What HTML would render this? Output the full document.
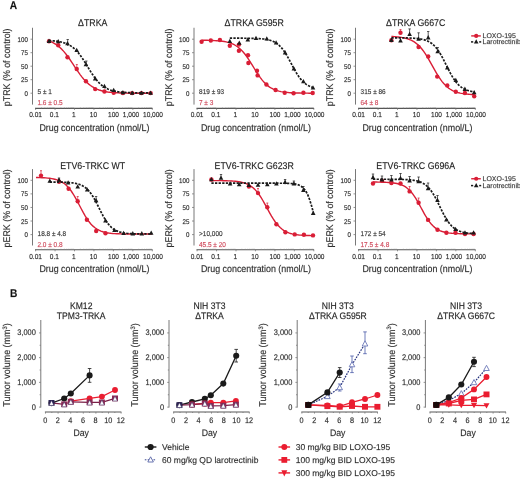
<!DOCTYPE html>
<html><head><meta charset="utf-8"><style>
html,body{margin:0;padding:0;background:#fff;}
svg{display:block;}
text{font-family:"Liberation Sans", sans-serif;text-rendering:geometricPrecision;paint-order:stroke;stroke:currentColor;stroke-width:0.25px;stroke-opacity:0.5;}
</style></head><body>
<svg style="will-change:transform;filter:blur(0.3px)" width="520" height="478" viewBox="0 0 520 478" font-family='"Liberation Sans", sans-serif'>
<rect width="520" height="478" fill="#fff"/>
<text transform="translate(9.70,9.40) scale(1,1.1)" font-size="10.2" text-anchor="start" fill="#111" color="#111" font-weight="bold">A</text>
<text transform="translate(9.90,297.40) scale(1,1.1)" font-size="10.2" text-anchor="start" fill="#111" color="#111" font-weight="bold">B</text>
<line x1="32.5" y1="27.75" x2="32.5" y2="104.6" stroke="#787878" stroke-width="1"/>
<line x1="30.5" y1="39.20" x2="32.5" y2="39.20" stroke="#787878" stroke-width="0.8"/>
<text transform="translate(27.90,41.80) scale(1,1.1)" font-size="6.2" text-anchor="end" fill="#2b2b2b" color="#2b2b2b" >100</text>
<line x1="30.5" y1="52.70" x2="32.5" y2="52.70" stroke="#787878" stroke-width="0.8"/>
<text transform="translate(27.90,55.30) scale(1,1.1)" font-size="6.2" text-anchor="end" fill="#2b2b2b" color="#2b2b2b" >75</text>
<line x1="30.5" y1="66.20" x2="32.5" y2="66.20" stroke="#787878" stroke-width="0.8"/>
<text transform="translate(27.90,68.80) scale(1,1.1)" font-size="6.2" text-anchor="end" fill="#2b2b2b" color="#2b2b2b" >50</text>
<line x1="30.5" y1="79.70" x2="32.5" y2="79.70" stroke="#787878" stroke-width="0.8"/>
<text transform="translate(27.90,82.30) scale(1,1.1)" font-size="6.2" text-anchor="end" fill="#2b2b2b" color="#2b2b2b" >25</text>
<line x1="30.5" y1="93.20" x2="32.5" y2="93.20" stroke="#787878" stroke-width="0.8"/>
<text transform="translate(27.90,95.80) scale(1,1.1)" font-size="6.2" text-anchor="end" fill="#2b2b2b" color="#2b2b2b" >0</text>
<line x1="35.0" y1="108.4" x2="152.6" y2="108.4" stroke="#555" stroke-width="1.1"/>
<line x1="35.60" y1="108.4" x2="35.60" y2="109.9" stroke="#787878" stroke-width="0.8"/>
<line x1="41.46" y1="108.4" x2="41.46" y2="107.30000000000001" stroke="#888" stroke-width="0.5"/>
<line x1="44.88" y1="108.4" x2="44.88" y2="107.30000000000001" stroke="#888" stroke-width="0.5"/>
<line x1="47.31" y1="108.4" x2="47.31" y2="107.30000000000001" stroke="#888" stroke-width="0.5"/>
<line x1="49.19" y1="108.4" x2="49.19" y2="107.30000000000001" stroke="#888" stroke-width="0.5"/>
<line x1="50.74" y1="108.4" x2="50.74" y2="107.30000000000001" stroke="#888" stroke-width="0.5"/>
<line x1="52.04" y1="108.4" x2="52.04" y2="107.30000000000001" stroke="#888" stroke-width="0.5"/>
<line x1="53.17" y1="108.4" x2="53.17" y2="107.30000000000001" stroke="#888" stroke-width="0.5"/>
<line x1="54.16" y1="108.4" x2="54.16" y2="107.30000000000001" stroke="#888" stroke-width="0.5"/>
<text transform="translate(35.60,117.00) scale(1,1.1)" font-size="6.55" text-anchor="middle" fill="#2b2b2b" color="#2b2b2b" >0.01</text>
<line x1="55.05" y1="108.4" x2="55.05" y2="109.9" stroke="#787878" stroke-width="0.8"/>
<line x1="60.91" y1="108.4" x2="60.91" y2="107.30000000000001" stroke="#888" stroke-width="0.5"/>
<line x1="64.33" y1="108.4" x2="64.33" y2="107.30000000000001" stroke="#888" stroke-width="0.5"/>
<line x1="66.76" y1="108.4" x2="66.76" y2="107.30000000000001" stroke="#888" stroke-width="0.5"/>
<line x1="68.64" y1="108.4" x2="68.64" y2="107.30000000000001" stroke="#888" stroke-width="0.5"/>
<line x1="70.19" y1="108.4" x2="70.19" y2="107.30000000000001" stroke="#888" stroke-width="0.5"/>
<line x1="71.49" y1="108.4" x2="71.49" y2="107.30000000000001" stroke="#888" stroke-width="0.5"/>
<line x1="72.62" y1="108.4" x2="72.62" y2="107.30000000000001" stroke="#888" stroke-width="0.5"/>
<line x1="73.61" y1="108.4" x2="73.61" y2="107.30000000000001" stroke="#888" stroke-width="0.5"/>
<text transform="translate(54.40,117.00) scale(1,1.1)" font-size="6.55" text-anchor="middle" fill="#2b2b2b" color="#2b2b2b" >0.1</text>
<line x1="74.50" y1="108.4" x2="74.50" y2="109.9" stroke="#787878" stroke-width="0.8"/>
<line x1="80.36" y1="108.4" x2="80.36" y2="107.30000000000001" stroke="#888" stroke-width="0.5"/>
<line x1="83.78" y1="108.4" x2="83.78" y2="107.30000000000001" stroke="#888" stroke-width="0.5"/>
<line x1="86.21" y1="108.4" x2="86.21" y2="107.30000000000001" stroke="#888" stroke-width="0.5"/>
<line x1="88.09" y1="108.4" x2="88.09" y2="107.30000000000001" stroke="#888" stroke-width="0.5"/>
<line x1="89.64" y1="108.4" x2="89.64" y2="107.30000000000001" stroke="#888" stroke-width="0.5"/>
<line x1="90.94" y1="108.4" x2="90.94" y2="107.30000000000001" stroke="#888" stroke-width="0.5"/>
<line x1="92.07" y1="108.4" x2="92.07" y2="107.30000000000001" stroke="#888" stroke-width="0.5"/>
<line x1="93.06" y1="108.4" x2="93.06" y2="107.30000000000001" stroke="#888" stroke-width="0.5"/>
<text transform="translate(73.75,117.00) scale(1,1.1)" font-size="6.55" text-anchor="middle" fill="#2b2b2b" color="#2b2b2b" >1</text>
<line x1="93.95" y1="108.4" x2="93.95" y2="109.9" stroke="#787878" stroke-width="0.8"/>
<line x1="99.81" y1="108.4" x2="99.81" y2="107.30000000000001" stroke="#888" stroke-width="0.5"/>
<line x1="103.23" y1="108.4" x2="103.23" y2="107.30000000000001" stroke="#888" stroke-width="0.5"/>
<line x1="105.66" y1="108.4" x2="105.66" y2="107.30000000000001" stroke="#888" stroke-width="0.5"/>
<line x1="107.54" y1="108.4" x2="107.54" y2="107.30000000000001" stroke="#888" stroke-width="0.5"/>
<line x1="109.09" y1="108.4" x2="109.09" y2="107.30000000000001" stroke="#888" stroke-width="0.5"/>
<line x1="110.39" y1="108.4" x2="110.39" y2="107.30000000000001" stroke="#888" stroke-width="0.5"/>
<line x1="111.52" y1="108.4" x2="111.52" y2="107.30000000000001" stroke="#888" stroke-width="0.5"/>
<line x1="112.51" y1="108.4" x2="112.51" y2="107.30000000000001" stroke="#888" stroke-width="0.5"/>
<text transform="translate(93.40,117.00) scale(1,1.1)" font-size="6.55" text-anchor="middle" fill="#2b2b2b" color="#2b2b2b" >10</text>
<line x1="113.40" y1="108.4" x2="113.40" y2="109.9" stroke="#787878" stroke-width="0.8"/>
<line x1="119.26" y1="108.4" x2="119.26" y2="107.30000000000001" stroke="#888" stroke-width="0.5"/>
<line x1="122.68" y1="108.4" x2="122.68" y2="107.30000000000001" stroke="#888" stroke-width="0.5"/>
<line x1="125.11" y1="108.4" x2="125.11" y2="107.30000000000001" stroke="#888" stroke-width="0.5"/>
<line x1="126.99" y1="108.4" x2="126.99" y2="107.30000000000001" stroke="#888" stroke-width="0.5"/>
<line x1="128.54" y1="108.4" x2="128.54" y2="107.30000000000001" stroke="#888" stroke-width="0.5"/>
<line x1="129.84" y1="108.4" x2="129.84" y2="107.30000000000001" stroke="#888" stroke-width="0.5"/>
<line x1="130.97" y1="108.4" x2="130.97" y2="107.30000000000001" stroke="#888" stroke-width="0.5"/>
<line x1="131.96" y1="108.4" x2="131.96" y2="107.30000000000001" stroke="#888" stroke-width="0.5"/>
<text transform="translate(113.50,117.00) scale(1,1.1)" font-size="6.55" text-anchor="middle" fill="#2b2b2b" color="#2b2b2b" >100</text>
<line x1="132.85" y1="108.4" x2="132.85" y2="109.9" stroke="#787878" stroke-width="0.8"/>
<line x1="138.71" y1="108.4" x2="138.71" y2="107.30000000000001" stroke="#888" stroke-width="0.5"/>
<line x1="142.13" y1="108.4" x2="142.13" y2="107.30000000000001" stroke="#888" stroke-width="0.5"/>
<line x1="144.56" y1="108.4" x2="144.56" y2="107.30000000000001" stroke="#888" stroke-width="0.5"/>
<line x1="146.44" y1="108.4" x2="146.44" y2="107.30000000000001" stroke="#888" stroke-width="0.5"/>
<line x1="147.99" y1="108.4" x2="147.99" y2="107.30000000000001" stroke="#888" stroke-width="0.5"/>
<line x1="149.29" y1="108.4" x2="149.29" y2="107.30000000000001" stroke="#888" stroke-width="0.5"/>
<line x1="150.42" y1="108.4" x2="150.42" y2="107.30000000000001" stroke="#888" stroke-width="0.5"/>
<line x1="151.41" y1="108.4" x2="151.41" y2="107.30000000000001" stroke="#888" stroke-width="0.5"/>
<text transform="translate(131.00,117.00) scale(1,1.1)" font-size="6.55" text-anchor="middle" fill="#2b2b2b" color="#2b2b2b" >1,000</text>
<line x1="152.30" y1="108.4" x2="152.30" y2="109.9" stroke="#787878" stroke-width="0.8"/>
<text transform="translate(153.00,117.00) scale(1,1.1)" font-size="6.55" text-anchor="middle" fill="#2b2b2b" color="#2b2b2b" >10,000</text>
<text transform="translate(94.40,130.60) scale(1,1.1)" font-size="8.9" text-anchor="middle" fill="#2b2b2b" color="#2b2b2b" >Drug concentration (nmol/L)</text>
<text transform="translate(10.2,67.3) rotate(-90) scale(1,1.1)" font-size="8.85" text-anchor="middle" fill="#2b2b2b" color="#2b2b2b">pTRK (% of control)</text>
<text transform="translate(92.70,25.50) scale(1,1.1)" font-size="8.8" text-anchor="middle" fill="#222" color="#222" >ΔTRKA</text>
<text transform="translate(37.60,94.40) scale(1,1.1)" font-size="6.45" text-anchor="start" fill="#333" color="#333" >5 ± 1</text>
<text transform="translate(37.40,105.00) scale(1,1.1)" font-size="6.5" text-anchor="start" fill="#d04a5c" color="#d04a5c" >1.6 ± 0.5</text>
<path d="M49.00,40.97 L50.73,41.64 L52.46,42.43 L54.19,43.34 L55.92,44.41 L57.64,45.63 L59.37,47.03 L61.10,48.62 L62.83,50.39 L64.56,52.35 L66.29,54.50 L68.02,56.80 L69.75,59.24 L71.47,61.79 L73.20,64.40 L74.93,67.02 L76.66,69.62 L78.39,72.14 L80.12,74.56 L81.85,76.83 L83.58,78.93 L85.31,80.85 L87.03,82.58 L88.76,84.12 L90.49,85.48 L92.22,86.66 L93.95,87.69 L95.68,88.58 L97.41,89.34 L99.14,89.98 L100.86,90.53 L102.59,90.99 L104.32,91.38 L106.05,91.70 L107.78,91.98 L109.51,92.20 L111.24,92.39 L112.97,92.55 L114.69,92.69 L116.42,92.80 L118.15,92.89 L119.88,92.96 L121.61,93.03 L123.34,93.08 L125.07,93.12 L126.80,93.16 L128.53,93.19 L130.25,93.21 L131.98,93.23 L133.71,93.25 L135.44,93.27 L137.17,93.28 L138.90,93.29 L140.63,93.30 L142.36,93.30 L144.08,93.31 L145.81,93.31 L147.54,93.32 L149.27,93.32 L151.00,93.32" fill="none" stroke="#d91e36" stroke-width="1.4"/>
<circle cx="49.00" cy="41.20" r="2.2" fill="#d91e36"/>
<circle cx="58.24" cy="45.30" r="2.2" fill="#d91e36"/>
<circle cx="67.48" cy="57.20" r="2.2" fill="#d91e36"/>
<circle cx="76.72" cy="69.00" r="2.2" fill="#d91e36"/>
<circle cx="85.96" cy="81.20" r="2.2" fill="#d91e36"/>
<circle cx="95.20" cy="89.10" r="2.2" fill="#d91e36"/>
<circle cx="104.44" cy="91.50" r="2.2" fill="#d91e36"/>
<circle cx="113.68" cy="92.75" r="2.2" fill="#d91e36"/>
<circle cx="122.92" cy="93.10" r="2.2" fill="#d91e36"/>
<circle cx="132.16" cy="93.10" r="2.2" fill="#d91e36"/>
<circle cx="141.40" cy="93.10" r="2.2" fill="#d91e36"/>
<circle cx="150.64" cy="93.10" r="2.2" fill="#d91e36"/>
<line x1="76.8" y1="64.5" x2="76.8" y2="69" stroke="#d91e36" stroke-width="0.7"/>
<line x1="75.8" y1="64.5" x2="77.8" y2="64.5" stroke="#d91e36" stroke-width="0.7"/>
<path d="M49.00,40.58 L50.73,40.69 L52.46,40.81 L54.19,40.96 L55.92,41.15 L57.64,41.39 L59.37,41.68 L61.10,42.03 L62.83,42.46 L64.56,42.98 L66.29,43.62 L68.02,44.39 L69.75,45.31 L71.47,46.40 L73.20,47.70 L74.93,49.20 L76.66,50.94 L78.39,52.91 L80.12,55.12 L81.85,57.54 L83.58,60.14 L85.31,62.89 L87.03,65.71 L88.76,68.56 L90.49,71.36 L92.22,74.05 L93.95,76.59 L95.68,78.92 L97.41,81.03 L99.14,82.90 L100.86,84.54 L102.59,85.95 L104.32,87.16 L106.05,88.18 L107.78,89.03 L109.51,89.74 L111.24,90.33 L112.97,90.81 L114.69,91.21 L116.42,91.53 L118.15,91.80 L119.88,92.01 L121.61,92.19 L123.34,92.33 L125.07,92.44 L126.80,92.53 L128.53,92.61 L130.25,92.67 L131.98,92.72 L133.71,92.76 L135.44,92.79 L137.17,92.81 L138.90,92.83 L140.63,92.85 L142.36,92.86 L144.08,92.88 L145.81,92.88 L147.54,92.89 L149.27,92.90 L151.00,92.90" fill="none" stroke="#1a1a1a" stroke-width="1.7" stroke-dasharray="2.3,1.3"/>
<line x1="67.7" y1="39.5" x2="67.7" y2="46" stroke="#1a1a1a" stroke-width="0.7"/>
<line x1="66.5" y1="39.5" x2="68.9" y2="39.5" stroke="#1a1a1a" stroke-width="0.7"/>
<line x1="86.3" y1="61" x2="86.3" y2="66" stroke="#1a1a1a" stroke-width="0.7"/>
<line x1="85.1" y1="61" x2="87.5" y2="61" stroke="#1a1a1a" stroke-width="0.7"/>
<path d="M49.00,38.60 L51.30,42.90 L46.70,42.90 Z" fill="#1a1a1a"/>
<path d="M58.24,38.90 L60.54,43.20 L55.94,43.20 Z" fill="#1a1a1a"/>
<path d="M67.48,41.00 L69.78,45.30 L65.18,45.30 Z" fill="#1a1a1a"/>
<path d="M76.72,47.80 L79.02,52.10 L74.42,52.10 Z" fill="#1a1a1a"/>
<path d="M85.96,62.00 L88.26,66.30 L83.66,66.30 Z" fill="#1a1a1a"/>
<path d="M95.20,76.10 L97.50,80.40 L92.90,80.40 Z" fill="#1a1a1a"/>
<path d="M104.44,83.65 L106.74,87.95 L102.14,87.95 Z" fill="#1a1a1a"/>
<path d="M113.68,87.80 L115.98,92.10 L111.38,92.10 Z" fill="#1a1a1a"/>
<path d="M122.92,89.90 L125.22,94.20 L120.62,94.20 Z" fill="#1a1a1a"/>
<path d="M132.16,90.50 L134.46,94.80 L129.86,94.80 Z" fill="#1a1a1a"/>
<path d="M141.40,90.50 L143.70,94.80 L139.10,94.80 Z" fill="#1a1a1a"/>
<path d="M150.64,90.50 L152.94,94.80 L148.34,94.80 Z" fill="#1a1a1a"/>
<line x1="194.0" y1="27.75" x2="194.0" y2="104.6" stroke="#787878" stroke-width="1"/>
<line x1="192.0" y1="39.20" x2="194.0" y2="39.20" stroke="#787878" stroke-width="0.8"/>
<text transform="translate(189.40,41.80) scale(1,1.1)" font-size="6.2" text-anchor="end" fill="#2b2b2b" color="#2b2b2b" >100</text>
<line x1="192.0" y1="52.70" x2="194.0" y2="52.70" stroke="#787878" stroke-width="0.8"/>
<text transform="translate(189.40,55.30) scale(1,1.1)" font-size="6.2" text-anchor="end" fill="#2b2b2b" color="#2b2b2b" >75</text>
<line x1="192.0" y1="66.20" x2="194.0" y2="66.20" stroke="#787878" stroke-width="0.8"/>
<text transform="translate(189.40,68.80) scale(1,1.1)" font-size="6.2" text-anchor="end" fill="#2b2b2b" color="#2b2b2b" >50</text>
<line x1="192.0" y1="79.70" x2="194.0" y2="79.70" stroke="#787878" stroke-width="0.8"/>
<text transform="translate(189.40,82.30) scale(1,1.1)" font-size="6.2" text-anchor="end" fill="#2b2b2b" color="#2b2b2b" >25</text>
<line x1="192.0" y1="93.20" x2="194.0" y2="93.20" stroke="#787878" stroke-width="0.8"/>
<text transform="translate(189.40,95.80) scale(1,1.1)" font-size="6.2" text-anchor="end" fill="#2b2b2b" color="#2b2b2b" >0</text>
<line x1="196.5" y1="108.4" x2="314.1" y2="108.4" stroke="#555" stroke-width="1.1"/>
<line x1="197.10" y1="108.4" x2="197.10" y2="109.9" stroke="#787878" stroke-width="0.8"/>
<line x1="202.96" y1="108.4" x2="202.96" y2="107.30000000000001" stroke="#888" stroke-width="0.5"/>
<line x1="206.38" y1="108.4" x2="206.38" y2="107.30000000000001" stroke="#888" stroke-width="0.5"/>
<line x1="208.81" y1="108.4" x2="208.81" y2="107.30000000000001" stroke="#888" stroke-width="0.5"/>
<line x1="210.69" y1="108.4" x2="210.69" y2="107.30000000000001" stroke="#888" stroke-width="0.5"/>
<line x1="212.24" y1="108.4" x2="212.24" y2="107.30000000000001" stroke="#888" stroke-width="0.5"/>
<line x1="213.54" y1="108.4" x2="213.54" y2="107.30000000000001" stroke="#888" stroke-width="0.5"/>
<line x1="214.67" y1="108.4" x2="214.67" y2="107.30000000000001" stroke="#888" stroke-width="0.5"/>
<line x1="215.66" y1="108.4" x2="215.66" y2="107.30000000000001" stroke="#888" stroke-width="0.5"/>
<text transform="translate(197.10,117.00) scale(1,1.1)" font-size="6.55" text-anchor="middle" fill="#2b2b2b" color="#2b2b2b" >0.01</text>
<line x1="216.55" y1="108.4" x2="216.55" y2="109.9" stroke="#787878" stroke-width="0.8"/>
<line x1="222.41" y1="108.4" x2="222.41" y2="107.30000000000001" stroke="#888" stroke-width="0.5"/>
<line x1="225.83" y1="108.4" x2="225.83" y2="107.30000000000001" stroke="#888" stroke-width="0.5"/>
<line x1="228.26" y1="108.4" x2="228.26" y2="107.30000000000001" stroke="#888" stroke-width="0.5"/>
<line x1="230.14" y1="108.4" x2="230.14" y2="107.30000000000001" stroke="#888" stroke-width="0.5"/>
<line x1="231.69" y1="108.4" x2="231.69" y2="107.30000000000001" stroke="#888" stroke-width="0.5"/>
<line x1="232.99" y1="108.4" x2="232.99" y2="107.30000000000001" stroke="#888" stroke-width="0.5"/>
<line x1="234.12" y1="108.4" x2="234.12" y2="107.30000000000001" stroke="#888" stroke-width="0.5"/>
<line x1="235.11" y1="108.4" x2="235.11" y2="107.30000000000001" stroke="#888" stroke-width="0.5"/>
<text transform="translate(215.90,117.00) scale(1,1.1)" font-size="6.55" text-anchor="middle" fill="#2b2b2b" color="#2b2b2b" >0.1</text>
<line x1="236.00" y1="108.4" x2="236.00" y2="109.9" stroke="#787878" stroke-width="0.8"/>
<line x1="241.86" y1="108.4" x2="241.86" y2="107.30000000000001" stroke="#888" stroke-width="0.5"/>
<line x1="245.28" y1="108.4" x2="245.28" y2="107.30000000000001" stroke="#888" stroke-width="0.5"/>
<line x1="247.71" y1="108.4" x2="247.71" y2="107.30000000000001" stroke="#888" stroke-width="0.5"/>
<line x1="249.59" y1="108.4" x2="249.59" y2="107.30000000000001" stroke="#888" stroke-width="0.5"/>
<line x1="251.14" y1="108.4" x2="251.14" y2="107.30000000000001" stroke="#888" stroke-width="0.5"/>
<line x1="252.44" y1="108.4" x2="252.44" y2="107.30000000000001" stroke="#888" stroke-width="0.5"/>
<line x1="253.57" y1="108.4" x2="253.57" y2="107.30000000000001" stroke="#888" stroke-width="0.5"/>
<line x1="254.56" y1="108.4" x2="254.56" y2="107.30000000000001" stroke="#888" stroke-width="0.5"/>
<text transform="translate(235.25,117.00) scale(1,1.1)" font-size="6.55" text-anchor="middle" fill="#2b2b2b" color="#2b2b2b" >1</text>
<line x1="255.45" y1="108.4" x2="255.45" y2="109.9" stroke="#787878" stroke-width="0.8"/>
<line x1="261.31" y1="108.4" x2="261.31" y2="107.30000000000001" stroke="#888" stroke-width="0.5"/>
<line x1="264.73" y1="108.4" x2="264.73" y2="107.30000000000001" stroke="#888" stroke-width="0.5"/>
<line x1="267.16" y1="108.4" x2="267.16" y2="107.30000000000001" stroke="#888" stroke-width="0.5"/>
<line x1="269.04" y1="108.4" x2="269.04" y2="107.30000000000001" stroke="#888" stroke-width="0.5"/>
<line x1="270.59" y1="108.4" x2="270.59" y2="107.30000000000001" stroke="#888" stroke-width="0.5"/>
<line x1="271.89" y1="108.4" x2="271.89" y2="107.30000000000001" stroke="#888" stroke-width="0.5"/>
<line x1="273.02" y1="108.4" x2="273.02" y2="107.30000000000001" stroke="#888" stroke-width="0.5"/>
<line x1="274.01" y1="108.4" x2="274.01" y2="107.30000000000001" stroke="#888" stroke-width="0.5"/>
<text transform="translate(254.90,117.00) scale(1,1.1)" font-size="6.55" text-anchor="middle" fill="#2b2b2b" color="#2b2b2b" >10</text>
<line x1="274.90" y1="108.4" x2="274.90" y2="109.9" stroke="#787878" stroke-width="0.8"/>
<line x1="280.76" y1="108.4" x2="280.76" y2="107.30000000000001" stroke="#888" stroke-width="0.5"/>
<line x1="284.18" y1="108.4" x2="284.18" y2="107.30000000000001" stroke="#888" stroke-width="0.5"/>
<line x1="286.61" y1="108.4" x2="286.61" y2="107.30000000000001" stroke="#888" stroke-width="0.5"/>
<line x1="288.49" y1="108.4" x2="288.49" y2="107.30000000000001" stroke="#888" stroke-width="0.5"/>
<line x1="290.04" y1="108.4" x2="290.04" y2="107.30000000000001" stroke="#888" stroke-width="0.5"/>
<line x1="291.34" y1="108.4" x2="291.34" y2="107.30000000000001" stroke="#888" stroke-width="0.5"/>
<line x1="292.47" y1="108.4" x2="292.47" y2="107.30000000000001" stroke="#888" stroke-width="0.5"/>
<line x1="293.46" y1="108.4" x2="293.46" y2="107.30000000000001" stroke="#888" stroke-width="0.5"/>
<text transform="translate(275.00,117.00) scale(1,1.1)" font-size="6.55" text-anchor="middle" fill="#2b2b2b" color="#2b2b2b" >100</text>
<line x1="294.35" y1="108.4" x2="294.35" y2="109.9" stroke="#787878" stroke-width="0.8"/>
<line x1="300.21" y1="108.4" x2="300.21" y2="107.30000000000001" stroke="#888" stroke-width="0.5"/>
<line x1="303.63" y1="108.4" x2="303.63" y2="107.30000000000001" stroke="#888" stroke-width="0.5"/>
<line x1="306.06" y1="108.4" x2="306.06" y2="107.30000000000001" stroke="#888" stroke-width="0.5"/>
<line x1="307.94" y1="108.4" x2="307.94" y2="107.30000000000001" stroke="#888" stroke-width="0.5"/>
<line x1="309.49" y1="108.4" x2="309.49" y2="107.30000000000001" stroke="#888" stroke-width="0.5"/>
<line x1="310.79" y1="108.4" x2="310.79" y2="107.30000000000001" stroke="#888" stroke-width="0.5"/>
<line x1="311.92" y1="108.4" x2="311.92" y2="107.30000000000001" stroke="#888" stroke-width="0.5"/>
<line x1="312.91" y1="108.4" x2="312.91" y2="107.30000000000001" stroke="#888" stroke-width="0.5"/>
<text transform="translate(292.50,117.00) scale(1,1.1)" font-size="6.55" text-anchor="middle" fill="#2b2b2b" color="#2b2b2b" >1,000</text>
<line x1="313.80" y1="108.4" x2="313.80" y2="109.9" stroke="#787878" stroke-width="0.8"/>
<text transform="translate(314.50,117.00) scale(1,1.1)" font-size="6.55" text-anchor="middle" fill="#2b2b2b" color="#2b2b2b" >10,000</text>
<text transform="translate(255.90,130.60) scale(1,1.1)" font-size="8.9" text-anchor="middle" fill="#2b2b2b" color="#2b2b2b" >Drug concentration (nmol/L)</text>
<text transform="translate(171.7,67.3) rotate(-90) scale(1,1.1)" font-size="8.85" text-anchor="middle" fill="#2b2b2b" color="#2b2b2b">pTRK (% of control)</text>
<text transform="translate(254.20,25.50) scale(1,1.1)" font-size="8.8" text-anchor="middle" fill="#222" color="#222" >ΔTRKA G595R</text>
<text transform="translate(199.10,94.40) scale(1,1.1)" font-size="6.45" text-anchor="start" fill="#333" color="#333" >819 ± 93</text>
<text transform="translate(198.90,105.00) scale(1,1.1)" font-size="6.5" text-anchor="start" fill="#d04a5c" color="#d04a5c" >7 ± 3</text>
<path d="M201.60,40.23 L203.49,40.25 L205.38,40.28 L207.26,40.32 L209.15,40.37 L211.04,40.43 L212.93,40.50 L214.82,40.59 L216.71,40.71 L218.59,40.86 L220.48,41.04 L222.37,41.27 L224.26,41.56 L226.15,41.93 L228.03,42.38 L229.92,42.94 L231.81,43.63 L233.70,44.47 L235.59,45.50 L237.47,46.74 L239.36,48.21 L241.25,49.95 L243.14,51.96 L245.03,54.25 L246.92,56.81 L248.80,59.60 L250.69,62.57 L252.58,65.65 L254.47,68.75 L256.36,71.80 L258.24,74.72 L260.13,77.43 L262.02,79.91 L263.91,82.11 L265.80,84.03 L267.68,85.68 L269.57,87.07 L271.46,88.24 L273.35,89.20 L275.24,89.99 L277.13,90.63 L279.01,91.15 L280.90,91.57 L282.79,91.91 L284.68,92.18 L286.57,92.39 L288.45,92.57 L290.34,92.70 L292.23,92.81 L294.12,92.90 L296.01,92.97 L297.89,93.02 L299.78,93.06 L301.67,93.10 L303.56,93.12 L305.45,93.15 L307.34,93.16 L309.22,93.18 L311.11,93.19 L313.00,93.19" fill="none" stroke="#d91e36" stroke-width="1.4"/>
<circle cx="201.60" cy="41.70" r="2.2" fill="#d91e36"/>
<circle cx="210.80" cy="40.50" r="2.2" fill="#d91e36"/>
<circle cx="219.90" cy="40.00" r="2.2" fill="#d91e36"/>
<circle cx="229.80" cy="45.80" r="2.2" fill="#d91e36"/>
<circle cx="238.90" cy="44.60" r="2.2" fill="#d91e36"/>
<circle cx="238.90" cy="50.80" r="2.2" fill="#d91e36"/>
<circle cx="248.00" cy="55.20" r="2.2" fill="#d91e36"/>
<circle cx="248.40" cy="63.00" r="2.2" fill="#d91e36"/>
<circle cx="257.00" cy="70.70" r="2.2" fill="#d91e36"/>
<circle cx="257.60" cy="75.40" r="2.2" fill="#d91e36"/>
<circle cx="266.40" cy="84.50" r="2.2" fill="#d91e36"/>
<circle cx="275.60" cy="90.00" r="2.2" fill="#d91e36"/>
<circle cx="284.70" cy="92.70" r="2.2" fill="#d91e36"/>
<circle cx="293.60" cy="93.30" r="2.2" fill="#d91e36"/>
<circle cx="303.40" cy="92.70" r="2.2" fill="#d91e36"/>
<circle cx="312.70" cy="93.00" r="2.2" fill="#d91e36"/>
<path d="M229.80,38.19 L231.21,38.19 L232.62,38.19 L234.03,38.20 L235.44,38.20 L236.85,38.20 L238.26,38.21 L239.67,38.21 L241.08,38.22 L242.49,38.22 L243.90,38.23 L245.31,38.24 L246.72,38.25 L248.13,38.27 L249.54,38.29 L250.95,38.31 L252.36,38.34 L253.77,38.38 L255.18,38.42 L256.59,38.48 L258.00,38.55 L259.41,38.63 L260.82,38.73 L262.23,38.86 L263.64,39.01 L265.05,39.20 L266.46,39.43 L267.87,39.71 L269.28,40.05 L270.69,40.47 L272.11,40.97 L273.52,41.58 L274.93,42.30 L276.34,43.16 L277.75,44.18 L279.16,45.38 L280.57,46.77 L281.98,48.37 L283.39,50.18 L284.80,52.20 L286.21,54.43 L287.62,56.83 L289.03,59.37 L290.44,62.01 L291.85,64.68 L293.26,67.34 L294.67,69.92 L296.08,72.38 L297.49,74.67 L298.90,76.77 L300.31,78.66 L301.72,80.33 L303.13,81.80 L304.54,83.06 L305.95,84.15 L307.36,85.07 L308.77,85.84 L310.18,86.48 L311.59,87.02 L313.00,87.47" fill="none" stroke="#1a1a1a" stroke-width="1.7" stroke-dasharray="2.3,1.3"/>
<path d="M229.80,38.80 L232.10,43.10 L227.50,43.10 Z" fill="#1a1a1a"/>
<path d="M239.30,40.40 L241.60,44.70 L237.00,44.70 Z" fill="#1a1a1a"/>
<path d="M247.80,37.20 L250.10,41.50 L245.50,41.50 Z" fill="#1a1a1a"/>
<path d="M256.00,35.70 L258.30,40.00 L253.70,40.00 Z" fill="#1a1a1a"/>
<path d="M266.80,36.20 L269.10,40.50 L264.50,40.50 Z" fill="#1a1a1a"/>
<path d="M276.10,40.30 L278.40,44.60 L273.80,44.60 Z" fill="#1a1a1a"/>
<path d="M285.10,50.10 L287.40,54.40 L282.80,54.40 Z" fill="#1a1a1a"/>
<path d="M293.90,66.20 L296.20,70.50 L291.60,70.50 Z" fill="#1a1a1a"/>
<path d="M303.40,78.90 L305.70,83.20 L301.10,83.20 Z" fill="#1a1a1a"/>
<path d="M313.00,85.20 L315.30,89.50 L310.70,89.50 Z" fill="#1a1a1a"/>
<line x1="355.5" y1="27.75" x2="355.5" y2="104.6" stroke="#787878" stroke-width="1"/>
<line x1="353.5" y1="39.20" x2="355.5" y2="39.20" stroke="#787878" stroke-width="0.8"/>
<text transform="translate(350.90,41.80) scale(1,1.1)" font-size="6.2" text-anchor="end" fill="#2b2b2b" color="#2b2b2b" >100</text>
<line x1="353.5" y1="52.70" x2="355.5" y2="52.70" stroke="#787878" stroke-width="0.8"/>
<text transform="translate(350.90,55.30) scale(1,1.1)" font-size="6.2" text-anchor="end" fill="#2b2b2b" color="#2b2b2b" >75</text>
<line x1="353.5" y1="66.20" x2="355.5" y2="66.20" stroke="#787878" stroke-width="0.8"/>
<text transform="translate(350.90,68.80) scale(1,1.1)" font-size="6.2" text-anchor="end" fill="#2b2b2b" color="#2b2b2b" >50</text>
<line x1="353.5" y1="79.70" x2="355.5" y2="79.70" stroke="#787878" stroke-width="0.8"/>
<text transform="translate(350.90,82.30) scale(1,1.1)" font-size="6.2" text-anchor="end" fill="#2b2b2b" color="#2b2b2b" >25</text>
<line x1="353.5" y1="93.20" x2="355.5" y2="93.20" stroke="#787878" stroke-width="0.8"/>
<text transform="translate(350.90,95.80) scale(1,1.1)" font-size="6.2" text-anchor="end" fill="#2b2b2b" color="#2b2b2b" >0</text>
<line x1="358.0" y1="108.4" x2="475.6" y2="108.4" stroke="#555" stroke-width="1.1"/>
<line x1="358.60" y1="108.4" x2="358.60" y2="109.9" stroke="#787878" stroke-width="0.8"/>
<line x1="364.46" y1="108.4" x2="364.46" y2="107.30000000000001" stroke="#888" stroke-width="0.5"/>
<line x1="367.88" y1="108.4" x2="367.88" y2="107.30000000000001" stroke="#888" stroke-width="0.5"/>
<line x1="370.31" y1="108.4" x2="370.31" y2="107.30000000000001" stroke="#888" stroke-width="0.5"/>
<line x1="372.19" y1="108.4" x2="372.19" y2="107.30000000000001" stroke="#888" stroke-width="0.5"/>
<line x1="373.74" y1="108.4" x2="373.74" y2="107.30000000000001" stroke="#888" stroke-width="0.5"/>
<line x1="375.04" y1="108.4" x2="375.04" y2="107.30000000000001" stroke="#888" stroke-width="0.5"/>
<line x1="376.17" y1="108.4" x2="376.17" y2="107.30000000000001" stroke="#888" stroke-width="0.5"/>
<line x1="377.16" y1="108.4" x2="377.16" y2="107.30000000000001" stroke="#888" stroke-width="0.5"/>
<text transform="translate(358.60,117.00) scale(1,1.1)" font-size="6.55" text-anchor="middle" fill="#2b2b2b" color="#2b2b2b" >0.01</text>
<line x1="378.05" y1="108.4" x2="378.05" y2="109.9" stroke="#787878" stroke-width="0.8"/>
<line x1="383.91" y1="108.4" x2="383.91" y2="107.30000000000001" stroke="#888" stroke-width="0.5"/>
<line x1="387.33" y1="108.4" x2="387.33" y2="107.30000000000001" stroke="#888" stroke-width="0.5"/>
<line x1="389.76" y1="108.4" x2="389.76" y2="107.30000000000001" stroke="#888" stroke-width="0.5"/>
<line x1="391.64" y1="108.4" x2="391.64" y2="107.30000000000001" stroke="#888" stroke-width="0.5"/>
<line x1="393.19" y1="108.4" x2="393.19" y2="107.30000000000001" stroke="#888" stroke-width="0.5"/>
<line x1="394.49" y1="108.4" x2="394.49" y2="107.30000000000001" stroke="#888" stroke-width="0.5"/>
<line x1="395.62" y1="108.4" x2="395.62" y2="107.30000000000001" stroke="#888" stroke-width="0.5"/>
<line x1="396.61" y1="108.4" x2="396.61" y2="107.30000000000001" stroke="#888" stroke-width="0.5"/>
<text transform="translate(377.40,117.00) scale(1,1.1)" font-size="6.55" text-anchor="middle" fill="#2b2b2b" color="#2b2b2b" >0.1</text>
<line x1="397.50" y1="108.4" x2="397.50" y2="109.9" stroke="#787878" stroke-width="0.8"/>
<line x1="403.36" y1="108.4" x2="403.36" y2="107.30000000000001" stroke="#888" stroke-width="0.5"/>
<line x1="406.78" y1="108.4" x2="406.78" y2="107.30000000000001" stroke="#888" stroke-width="0.5"/>
<line x1="409.21" y1="108.4" x2="409.21" y2="107.30000000000001" stroke="#888" stroke-width="0.5"/>
<line x1="411.09" y1="108.4" x2="411.09" y2="107.30000000000001" stroke="#888" stroke-width="0.5"/>
<line x1="412.64" y1="108.4" x2="412.64" y2="107.30000000000001" stroke="#888" stroke-width="0.5"/>
<line x1="413.94" y1="108.4" x2="413.94" y2="107.30000000000001" stroke="#888" stroke-width="0.5"/>
<line x1="415.07" y1="108.4" x2="415.07" y2="107.30000000000001" stroke="#888" stroke-width="0.5"/>
<line x1="416.06" y1="108.4" x2="416.06" y2="107.30000000000001" stroke="#888" stroke-width="0.5"/>
<text transform="translate(396.75,117.00) scale(1,1.1)" font-size="6.55" text-anchor="middle" fill="#2b2b2b" color="#2b2b2b" >1</text>
<line x1="416.95" y1="108.4" x2="416.95" y2="109.9" stroke="#787878" stroke-width="0.8"/>
<line x1="422.81" y1="108.4" x2="422.81" y2="107.30000000000001" stroke="#888" stroke-width="0.5"/>
<line x1="426.23" y1="108.4" x2="426.23" y2="107.30000000000001" stroke="#888" stroke-width="0.5"/>
<line x1="428.66" y1="108.4" x2="428.66" y2="107.30000000000001" stroke="#888" stroke-width="0.5"/>
<line x1="430.54" y1="108.4" x2="430.54" y2="107.30000000000001" stroke="#888" stroke-width="0.5"/>
<line x1="432.09" y1="108.4" x2="432.09" y2="107.30000000000001" stroke="#888" stroke-width="0.5"/>
<line x1="433.39" y1="108.4" x2="433.39" y2="107.30000000000001" stroke="#888" stroke-width="0.5"/>
<line x1="434.52" y1="108.4" x2="434.52" y2="107.30000000000001" stroke="#888" stroke-width="0.5"/>
<line x1="435.51" y1="108.4" x2="435.51" y2="107.30000000000001" stroke="#888" stroke-width="0.5"/>
<text transform="translate(416.40,117.00) scale(1,1.1)" font-size="6.55" text-anchor="middle" fill="#2b2b2b" color="#2b2b2b" >10</text>
<line x1="436.40" y1="108.4" x2="436.40" y2="109.9" stroke="#787878" stroke-width="0.8"/>
<line x1="442.26" y1="108.4" x2="442.26" y2="107.30000000000001" stroke="#888" stroke-width="0.5"/>
<line x1="445.68" y1="108.4" x2="445.68" y2="107.30000000000001" stroke="#888" stroke-width="0.5"/>
<line x1="448.11" y1="108.4" x2="448.11" y2="107.30000000000001" stroke="#888" stroke-width="0.5"/>
<line x1="449.99" y1="108.4" x2="449.99" y2="107.30000000000001" stroke="#888" stroke-width="0.5"/>
<line x1="451.54" y1="108.4" x2="451.54" y2="107.30000000000001" stroke="#888" stroke-width="0.5"/>
<line x1="452.84" y1="108.4" x2="452.84" y2="107.30000000000001" stroke="#888" stroke-width="0.5"/>
<line x1="453.97" y1="108.4" x2="453.97" y2="107.30000000000001" stroke="#888" stroke-width="0.5"/>
<line x1="454.96" y1="108.4" x2="454.96" y2="107.30000000000001" stroke="#888" stroke-width="0.5"/>
<text transform="translate(436.50,117.00) scale(1,1.1)" font-size="6.55" text-anchor="middle" fill="#2b2b2b" color="#2b2b2b" >100</text>
<line x1="455.85" y1="108.4" x2="455.85" y2="109.9" stroke="#787878" stroke-width="0.8"/>
<line x1="461.71" y1="108.4" x2="461.71" y2="107.30000000000001" stroke="#888" stroke-width="0.5"/>
<line x1="465.13" y1="108.4" x2="465.13" y2="107.30000000000001" stroke="#888" stroke-width="0.5"/>
<line x1="467.56" y1="108.4" x2="467.56" y2="107.30000000000001" stroke="#888" stroke-width="0.5"/>
<line x1="469.44" y1="108.4" x2="469.44" y2="107.30000000000001" stroke="#888" stroke-width="0.5"/>
<line x1="470.99" y1="108.4" x2="470.99" y2="107.30000000000001" stroke="#888" stroke-width="0.5"/>
<line x1="472.29" y1="108.4" x2="472.29" y2="107.30000000000001" stroke="#888" stroke-width="0.5"/>
<line x1="473.42" y1="108.4" x2="473.42" y2="107.30000000000001" stroke="#888" stroke-width="0.5"/>
<line x1="474.41" y1="108.4" x2="474.41" y2="107.30000000000001" stroke="#888" stroke-width="0.5"/>
<text transform="translate(454.00,117.00) scale(1,1.1)" font-size="6.55" text-anchor="middle" fill="#2b2b2b" color="#2b2b2b" >1,000</text>
<line x1="475.30" y1="108.4" x2="475.30" y2="109.9" stroke="#787878" stroke-width="0.8"/>
<text transform="translate(476.00,117.00) scale(1,1.1)" font-size="6.55" text-anchor="middle" fill="#2b2b2b" color="#2b2b2b" >10,000</text>
<text transform="translate(417.40,130.60) scale(1,1.1)" font-size="8.9" text-anchor="middle" fill="#2b2b2b" color="#2b2b2b" >Drug concentration (nmol/L)</text>
<text transform="translate(333.2,67.3) rotate(-90) scale(1,1.1)" font-size="8.85" text-anchor="middle" fill="#2b2b2b" color="#2b2b2b">pTRK (% of control)</text>
<text transform="translate(415.70,25.50) scale(1,1.1)" font-size="8.8" text-anchor="middle" fill="#222" color="#222" >ΔTRKA G667C</text>
<text transform="translate(360.60,94.40) scale(1,1.1)" font-size="6.45" text-anchor="start" fill="#333" color="#333" >315 ± 86</text>
<text transform="translate(360.40,105.00) scale(1,1.1)" font-size="6.5" text-anchor="start" fill="#d04a5c" color="#d04a5c" >64 ± 8</text>
<path d="M391.40,36.50 L392.80,36.57 L394.21,36.65 L395.61,36.75 L397.01,36.87 L398.42,37.01 L399.82,37.18 L401.22,37.38 L402.63,37.61 L404.03,37.88 L405.43,38.21 L406.84,38.59 L408.24,39.03 L409.64,39.55 L411.05,40.15 L412.45,40.86 L413.85,41.67 L415.26,42.60 L416.66,43.67 L418.06,44.89 L419.47,46.26 L420.87,47.79 L422.27,49.50 L423.68,51.37 L425.08,53.41 L426.48,55.59 L427.89,57.91 L429.29,60.34 L430.69,62.83 L432.10,65.37 L433.50,67.91 L434.91,70.42 L436.31,72.85 L437.71,75.18 L439.12,77.38 L440.52,79.44 L441.92,81.33 L443.33,83.06 L444.73,84.61 L446.13,86.00 L447.54,87.24 L448.94,88.32 L450.34,89.27 L451.75,90.10 L453.15,90.81 L454.55,91.43 L455.96,91.96 L457.36,92.41 L458.76,92.80 L460.17,93.12 L461.57,93.40 L462.97,93.64 L464.38,93.84 L465.78,94.01 L467.18,94.16 L468.59,94.28 L469.99,94.38 L471.39,94.47 L472.80,94.54 L474.20,94.60" fill="none" stroke="#d91e36" stroke-width="1.4"/>
<circle cx="391.40" cy="40.20" r="2.2" fill="#d91e36"/>
<circle cx="400.50" cy="32.80" r="2.2" fill="#d91e36"/>
<circle cx="418.60" cy="47.00" r="2.2" fill="#d91e36"/>
<circle cx="428.20" cy="56.50" r="2.2" fill="#d91e36"/>
<circle cx="437.20" cy="76.60" r="2.2" fill="#d91e36"/>
<circle cx="447.30" cy="85.40" r="2.2" fill="#d91e36"/>
<circle cx="455.80" cy="91.70" r="2.2" fill="#d91e36"/>
<circle cx="464.90" cy="93.00" r="2.2" fill="#d91e36"/>
<circle cx="474.20" cy="96.20" r="2.2" fill="#d91e36"/>
<line x1="400.5" y1="29.5" x2="400.5" y2="33" stroke="#d91e36" stroke-width="0.7"/>
<line x1="399.5" y1="29.5" x2="401.5" y2="29.5" stroke="#d91e36" stroke-width="0.7"/>
<path d="M391.40,37.79 L392.80,37.80 L394.21,37.80 L395.61,37.81 L397.01,37.82 L398.42,37.82 L399.82,37.84 L401.22,37.85 L402.63,37.86 L404.03,37.88 L405.43,37.91 L406.84,37.94 L408.24,37.98 L409.64,38.02 L411.05,38.08 L412.45,38.15 L413.85,38.23 L415.26,38.33 L416.66,38.46 L418.06,38.62 L419.47,38.81 L420.87,39.04 L422.27,39.32 L423.68,39.66 L425.08,40.07 L426.48,40.58 L427.89,41.18 L429.29,41.90 L430.69,42.76 L432.10,43.79 L433.50,44.99 L434.91,46.38 L436.31,47.99 L437.71,49.83 L439.12,51.88 L440.52,54.16 L441.92,56.63 L443.33,59.27 L444.73,62.03 L446.13,64.85 L447.54,67.68 L448.94,70.46 L450.34,73.13 L451.75,75.65 L453.15,77.97 L454.55,80.08 L455.96,81.97 L457.36,83.64 L458.76,85.09 L460.17,86.33 L461.57,87.40 L462.97,88.30 L464.38,89.05 L465.78,89.68 L467.18,90.21 L468.59,90.64 L469.99,91.00 L471.39,91.30 L472.80,91.54 L474.20,91.74" fill="none" stroke="#1a1a1a" stroke-width="1.7" stroke-dasharray="2.3,1.3"/>
<line x1="409.6" y1="28.9" x2="409.6" y2="35" stroke="#1a1a1a" stroke-width="0.7"/>
<line x1="408.40000000000003" y1="28.9" x2="410.8" y2="28.9" stroke="#1a1a1a" stroke-width="0.7"/>
<line x1="418.6" y1="32.8" x2="418.6" y2="40" stroke="#1a1a1a" stroke-width="0.7"/>
<line x1="417.40000000000003" y1="32.8" x2="419.8" y2="32.8" stroke="#1a1a1a" stroke-width="0.7"/>
<line x1="428.2" y1="31.5" x2="428.2" y2="38" stroke="#1a1a1a" stroke-width="0.7"/>
<line x1="427.0" y1="31.5" x2="429.4" y2="31.5" stroke="#1a1a1a" stroke-width="0.7"/>
<line x1="437.7" y1="47.5" x2="437.7" y2="52" stroke="#1a1a1a" stroke-width="0.7"/>
<line x1="436.5" y1="47.5" x2="438.9" y2="47.5" stroke="#1a1a1a" stroke-width="0.7"/>
<path d="M391.40,37.60 L393.70,41.90 L389.10,41.90 Z" fill="#1a1a1a"/>
<path d="M400.50,38.10 L402.80,42.40 L398.20,42.40 Z" fill="#1a1a1a"/>
<path d="M409.60,31.80 L411.90,36.10 L407.30,36.10 Z" fill="#1a1a1a"/>
<path d="M418.60,36.50 L420.90,40.80 L416.30,40.80 Z" fill="#1a1a1a"/>
<path d="M428.20,35.10 L430.50,39.40 L425.90,39.40 Z" fill="#1a1a1a"/>
<path d="M437.70,48.90 L440.00,53.20 L435.40,53.20 Z" fill="#1a1a1a"/>
<path d="M447.30,65.20 L449.60,69.50 L445.00,69.50 Z" fill="#1a1a1a"/>
<path d="M455.80,77.80 L458.10,82.10 L453.50,82.10 Z" fill="#1a1a1a"/>
<path d="M464.90,86.60 L467.20,90.90 L462.60,90.90 Z" fill="#1a1a1a"/>
<path d="M474.20,89.90 L476.50,94.20 L471.90,94.20 Z" fill="#1a1a1a"/>
<line x1="471.2" y1="35.9" x2="480.8" y2="35.9" stroke="#d91e36" stroke-width="1.4"/>
<circle cx="476.2" cy="35.9" r="2.1" fill="#d91e36"/>
<text transform="translate(482.60,38.20) scale(1,1.0)" font-size="6.95" text-anchor="start" fill="#333" color="#333" >LOXO-195</text>
<line x1="471.0" y1="41.9" x2="473.2" y2="41.9" stroke="#1a1a1a" stroke-width="1.5"/>
<line x1="479.2" y1="41.9" x2="481.2" y2="41.9" stroke="#1a1a1a" stroke-width="1.5"/>
<path d="M476.20,39.30 L478.50,43.60 L473.90,43.60 Z" fill="#1a1a1a"/>
<text transform="translate(482.60,44.30) scale(1,1.0)" font-size="6.95" text-anchor="start" fill="#333" color="#333" >Larotrectinib</text>
<line x1="32.5" y1="169.1" x2="32.5" y2="245.5" stroke="#787878" stroke-width="1"/>
<line x1="30.5" y1="180.30" x2="32.5" y2="180.30" stroke="#787878" stroke-width="0.8"/>
<text transform="translate(27.90,182.90) scale(1,1.1)" font-size="6.2" text-anchor="end" fill="#2b2b2b" color="#2b2b2b" >100</text>
<line x1="30.5" y1="193.88" x2="32.5" y2="193.88" stroke="#787878" stroke-width="0.8"/>
<text transform="translate(27.90,196.47) scale(1,1.1)" font-size="6.2" text-anchor="end" fill="#2b2b2b" color="#2b2b2b" >75</text>
<line x1="30.5" y1="207.45" x2="32.5" y2="207.45" stroke="#787878" stroke-width="0.8"/>
<text transform="translate(27.90,210.05) scale(1,1.1)" font-size="6.2" text-anchor="end" fill="#2b2b2b" color="#2b2b2b" >50</text>
<line x1="30.5" y1="221.03" x2="32.5" y2="221.03" stroke="#787878" stroke-width="0.8"/>
<text transform="translate(27.90,223.62) scale(1,1.1)" font-size="6.2" text-anchor="end" fill="#2b2b2b" color="#2b2b2b" >25</text>
<line x1="30.5" y1="234.60" x2="32.5" y2="234.60" stroke="#787878" stroke-width="0.8"/>
<text transform="translate(27.90,237.20) scale(1,1.1)" font-size="6.2" text-anchor="end" fill="#2b2b2b" color="#2b2b2b" >0</text>
<line x1="35.0" y1="249.8" x2="152.6" y2="249.8" stroke="#555" stroke-width="1.1"/>
<line x1="35.60" y1="249.8" x2="35.60" y2="251.3" stroke="#787878" stroke-width="0.8"/>
<line x1="41.46" y1="249.8" x2="41.46" y2="248.70000000000002" stroke="#888" stroke-width="0.5"/>
<line x1="44.88" y1="249.8" x2="44.88" y2="248.70000000000002" stroke="#888" stroke-width="0.5"/>
<line x1="47.31" y1="249.8" x2="47.31" y2="248.70000000000002" stroke="#888" stroke-width="0.5"/>
<line x1="49.19" y1="249.8" x2="49.19" y2="248.70000000000002" stroke="#888" stroke-width="0.5"/>
<line x1="50.74" y1="249.8" x2="50.74" y2="248.70000000000002" stroke="#888" stroke-width="0.5"/>
<line x1="52.04" y1="249.8" x2="52.04" y2="248.70000000000002" stroke="#888" stroke-width="0.5"/>
<line x1="53.17" y1="249.8" x2="53.17" y2="248.70000000000002" stroke="#888" stroke-width="0.5"/>
<line x1="54.16" y1="249.8" x2="54.16" y2="248.70000000000002" stroke="#888" stroke-width="0.5"/>
<text transform="translate(35.60,258.50) scale(1,1.1)" font-size="6.55" text-anchor="middle" fill="#2b2b2b" color="#2b2b2b" >0.01</text>
<line x1="55.05" y1="249.8" x2="55.05" y2="251.3" stroke="#787878" stroke-width="0.8"/>
<line x1="60.91" y1="249.8" x2="60.91" y2="248.70000000000002" stroke="#888" stroke-width="0.5"/>
<line x1="64.33" y1="249.8" x2="64.33" y2="248.70000000000002" stroke="#888" stroke-width="0.5"/>
<line x1="66.76" y1="249.8" x2="66.76" y2="248.70000000000002" stroke="#888" stroke-width="0.5"/>
<line x1="68.64" y1="249.8" x2="68.64" y2="248.70000000000002" stroke="#888" stroke-width="0.5"/>
<line x1="70.19" y1="249.8" x2="70.19" y2="248.70000000000002" stroke="#888" stroke-width="0.5"/>
<line x1="71.49" y1="249.8" x2="71.49" y2="248.70000000000002" stroke="#888" stroke-width="0.5"/>
<line x1="72.62" y1="249.8" x2="72.62" y2="248.70000000000002" stroke="#888" stroke-width="0.5"/>
<line x1="73.61" y1="249.8" x2="73.61" y2="248.70000000000002" stroke="#888" stroke-width="0.5"/>
<text transform="translate(54.40,258.50) scale(1,1.1)" font-size="6.55" text-anchor="middle" fill="#2b2b2b" color="#2b2b2b" >0.1</text>
<line x1="74.50" y1="249.8" x2="74.50" y2="251.3" stroke="#787878" stroke-width="0.8"/>
<line x1="80.36" y1="249.8" x2="80.36" y2="248.70000000000002" stroke="#888" stroke-width="0.5"/>
<line x1="83.78" y1="249.8" x2="83.78" y2="248.70000000000002" stroke="#888" stroke-width="0.5"/>
<line x1="86.21" y1="249.8" x2="86.21" y2="248.70000000000002" stroke="#888" stroke-width="0.5"/>
<line x1="88.09" y1="249.8" x2="88.09" y2="248.70000000000002" stroke="#888" stroke-width="0.5"/>
<line x1="89.64" y1="249.8" x2="89.64" y2="248.70000000000002" stroke="#888" stroke-width="0.5"/>
<line x1="90.94" y1="249.8" x2="90.94" y2="248.70000000000002" stroke="#888" stroke-width="0.5"/>
<line x1="92.07" y1="249.8" x2="92.07" y2="248.70000000000002" stroke="#888" stroke-width="0.5"/>
<line x1="93.06" y1="249.8" x2="93.06" y2="248.70000000000002" stroke="#888" stroke-width="0.5"/>
<text transform="translate(73.75,258.50) scale(1,1.1)" font-size="6.55" text-anchor="middle" fill="#2b2b2b" color="#2b2b2b" >1</text>
<line x1="93.95" y1="249.8" x2="93.95" y2="251.3" stroke="#787878" stroke-width="0.8"/>
<line x1="99.81" y1="249.8" x2="99.81" y2="248.70000000000002" stroke="#888" stroke-width="0.5"/>
<line x1="103.23" y1="249.8" x2="103.23" y2="248.70000000000002" stroke="#888" stroke-width="0.5"/>
<line x1="105.66" y1="249.8" x2="105.66" y2="248.70000000000002" stroke="#888" stroke-width="0.5"/>
<line x1="107.54" y1="249.8" x2="107.54" y2="248.70000000000002" stroke="#888" stroke-width="0.5"/>
<line x1="109.09" y1="249.8" x2="109.09" y2="248.70000000000002" stroke="#888" stroke-width="0.5"/>
<line x1="110.39" y1="249.8" x2="110.39" y2="248.70000000000002" stroke="#888" stroke-width="0.5"/>
<line x1="111.52" y1="249.8" x2="111.52" y2="248.70000000000002" stroke="#888" stroke-width="0.5"/>
<line x1="112.51" y1="249.8" x2="112.51" y2="248.70000000000002" stroke="#888" stroke-width="0.5"/>
<text transform="translate(93.40,258.50) scale(1,1.1)" font-size="6.55" text-anchor="middle" fill="#2b2b2b" color="#2b2b2b" >10</text>
<line x1="113.40" y1="249.8" x2="113.40" y2="251.3" stroke="#787878" stroke-width="0.8"/>
<line x1="119.26" y1="249.8" x2="119.26" y2="248.70000000000002" stroke="#888" stroke-width="0.5"/>
<line x1="122.68" y1="249.8" x2="122.68" y2="248.70000000000002" stroke="#888" stroke-width="0.5"/>
<line x1="125.11" y1="249.8" x2="125.11" y2="248.70000000000002" stroke="#888" stroke-width="0.5"/>
<line x1="126.99" y1="249.8" x2="126.99" y2="248.70000000000002" stroke="#888" stroke-width="0.5"/>
<line x1="128.54" y1="249.8" x2="128.54" y2="248.70000000000002" stroke="#888" stroke-width="0.5"/>
<line x1="129.84" y1="249.8" x2="129.84" y2="248.70000000000002" stroke="#888" stroke-width="0.5"/>
<line x1="130.97" y1="249.8" x2="130.97" y2="248.70000000000002" stroke="#888" stroke-width="0.5"/>
<line x1="131.96" y1="249.8" x2="131.96" y2="248.70000000000002" stroke="#888" stroke-width="0.5"/>
<text transform="translate(113.50,258.50) scale(1,1.1)" font-size="6.55" text-anchor="middle" fill="#2b2b2b" color="#2b2b2b" >100</text>
<line x1="132.85" y1="249.8" x2="132.85" y2="251.3" stroke="#787878" stroke-width="0.8"/>
<line x1="138.71" y1="249.8" x2="138.71" y2="248.70000000000002" stroke="#888" stroke-width="0.5"/>
<line x1="142.13" y1="249.8" x2="142.13" y2="248.70000000000002" stroke="#888" stroke-width="0.5"/>
<line x1="144.56" y1="249.8" x2="144.56" y2="248.70000000000002" stroke="#888" stroke-width="0.5"/>
<line x1="146.44" y1="249.8" x2="146.44" y2="248.70000000000002" stroke="#888" stroke-width="0.5"/>
<line x1="147.99" y1="249.8" x2="147.99" y2="248.70000000000002" stroke="#888" stroke-width="0.5"/>
<line x1="149.29" y1="249.8" x2="149.29" y2="248.70000000000002" stroke="#888" stroke-width="0.5"/>
<line x1="150.42" y1="249.8" x2="150.42" y2="248.70000000000002" stroke="#888" stroke-width="0.5"/>
<line x1="151.41" y1="249.8" x2="151.41" y2="248.70000000000002" stroke="#888" stroke-width="0.5"/>
<text transform="translate(131.00,258.50) scale(1,1.1)" font-size="6.55" text-anchor="middle" fill="#2b2b2b" color="#2b2b2b" >1,000</text>
<line x1="152.30" y1="249.8" x2="152.30" y2="251.3" stroke="#787878" stroke-width="0.8"/>
<text transform="translate(153.00,258.50) scale(1,1.1)" font-size="6.55" text-anchor="middle" fill="#2b2b2b" color="#2b2b2b" >10,000</text>
<text transform="translate(94.40,271.50) scale(1,1.1)" font-size="8.9" text-anchor="middle" fill="#2b2b2b" color="#2b2b2b" >Drug concentration (nmol/L)</text>
<text transform="translate(10.2,208.3) rotate(-90) scale(1,1.1)" font-size="8.85" text-anchor="middle" fill="#2b2b2b" color="#2b2b2b">pERK (% of control)</text>
<text transform="translate(92.70,168.70) scale(1,1.1)" font-size="8.8" text-anchor="middle" fill="#222" color="#222" >ETV6-TRKC WT</text>
<text transform="translate(37.60,235.90) scale(1,1.1)" font-size="6.45" text-anchor="start" fill="#333" color="#333" >18.8 ± 4.8</text>
<text transform="translate(37.40,246.70) scale(1,1.1)" font-size="6.5" text-anchor="start" fill="#d04a5c" color="#d04a5c" >2.0 ± 0.8</text>
<path d="M36.00,177.51 L37.97,177.55 L39.93,177.61 L41.90,177.69 L43.86,177.79 L45.83,177.92 L47.80,178.09 L49.76,178.31 L51.73,178.60 L53.69,178.97 L55.66,179.45 L57.63,180.06 L59.59,180.83 L61.56,181.82 L63.53,183.05 L65.49,184.57 L67.46,186.43 L69.42,188.66 L71.39,191.27 L73.36,194.27 L75.32,197.61 L77.29,201.21 L79.25,204.96 L81.22,208.74 L83.19,212.42 L85.15,215.87 L87.12,219.01 L89.08,221.78 L91.05,224.16 L93.02,226.16 L94.98,227.81 L96.95,229.15 L98.92,230.23 L100.88,231.08 L102.85,231.75 L104.81,232.28 L106.78,232.69 L108.75,233.00 L110.71,233.25 L112.68,233.44 L114.64,233.58 L116.61,233.69 L118.58,233.78 L120.54,233.84 L122.51,233.90 L124.47,233.93 L126.44,233.96 L128.41,233.99 L130.37,234.00 L132.34,234.02 L134.31,234.03 L136.27,234.04 L138.24,234.04 L140.20,234.05 L142.17,234.05 L144.14,234.05 L146.10,234.05 L148.07,234.06 L150.03,234.06 L152.00,234.06" fill="none" stroke="#d91e36" stroke-width="1.4"/>
<circle cx="41.00" cy="175.60" r="2.2" fill="#d91e36"/>
<circle cx="59.00" cy="181.70" r="2.2" fill="#d91e36"/>
<circle cx="68.60" cy="188.70" r="2.2" fill="#d91e36"/>
<circle cx="77.70" cy="201.20" r="2.2" fill="#d91e36"/>
<circle cx="86.90" cy="219.80" r="2.2" fill="#d91e36"/>
<circle cx="96.20" cy="231.00" r="2.2" fill="#d91e36"/>
<circle cx="105.50" cy="233.30" r="2.2" fill="#d91e36"/>
<line x1="41" y1="170.7" x2="41" y2="176" stroke="#d91e36" stroke-width="0.7"/>
<line x1="40" y1="170.7" x2="42" y2="170.7" stroke="#d91e36" stroke-width="0.7"/>
<line x1="77.7" y1="196.5" x2="77.7" y2="201" stroke="#d91e36" stroke-width="0.7"/>
<line x1="76.7" y1="196.5" x2="78.7" y2="196.5" stroke="#d91e36" stroke-width="0.7"/>
<path d="M49.80,182.05 L51.52,182.05 L53.24,182.06 L54.96,182.08 L56.67,182.09 L58.39,182.11 L60.11,182.14 L61.83,182.18 L63.55,182.23 L65.27,182.29 L66.99,182.38 L68.71,182.48 L70.42,182.62 L72.14,182.81 L73.86,183.04 L75.58,183.34 L77.30,183.74 L79.02,184.24 L80.74,184.88 L82.45,185.69 L84.17,186.71 L85.89,187.99 L87.61,189.55 L89.33,191.43 L91.05,193.66 L92.77,196.25 L94.48,199.17 L96.20,202.36 L97.92,205.74 L99.64,209.20 L101.36,212.62 L103.08,215.88 L104.80,218.89 L106.52,221.59 L108.23,223.93 L109.95,225.92 L111.67,227.58 L113.39,228.94 L115.11,230.04 L116.83,230.91 L118.55,231.60 L120.26,232.14 L121.98,232.57 L123.70,232.90 L125.42,233.15 L127.14,233.35 L128.86,233.50 L130.58,233.62 L132.29,233.71 L134.01,233.78 L135.73,233.83 L137.45,233.87 L139.17,233.90 L140.89,233.92 L142.61,233.94 L144.33,233.96 L146.04,233.97 L147.76,233.98 L149.48,233.98 L151.20,233.99" fill="none" stroke="#1a1a1a" stroke-width="1.7" stroke-dasharray="2.3,1.3"/>
<line x1="59" y1="178" x2="59" y2="180" stroke="#1a1a1a" stroke-width="0.7"/>
<line x1="57.8" y1="178" x2="60.2" y2="178" stroke="#1a1a1a" stroke-width="0.7"/>
<line x1="96.1" y1="196.5" x2="96.1" y2="201" stroke="#1a1a1a" stroke-width="0.7"/>
<line x1="94.89999999999999" y1="196.5" x2="97.3" y2="196.5" stroke="#1a1a1a" stroke-width="0.7"/>
<path d="M49.80,178.40 L52.10,182.70 L47.50,182.70 Z" fill="#1a1a1a"/>
<path d="M59.00,177.40 L61.30,181.70 L56.70,181.70 Z" fill="#1a1a1a"/>
<path d="M68.10,180.30 L70.40,184.60 L65.80,184.60 Z" fill="#1a1a1a"/>
<path d="M77.70,184.20 L80.00,188.50 L75.40,188.50 Z" fill="#1a1a1a"/>
<path d="M87.20,187.20 L89.50,191.50 L84.90,191.50 Z" fill="#1a1a1a"/>
<path d="M96.10,198.00 L98.40,202.30 L93.80,202.30 Z" fill="#1a1a1a"/>
<path d="M105.50,218.10 L107.80,222.40 L103.20,222.40 Z" fill="#1a1a1a"/>
<path d="M114.50,227.80 L116.80,232.10 L112.20,232.10 Z" fill="#1a1a1a"/>
<path d="M123.60,230.70 L125.90,235.00 L121.30,235.00 Z" fill="#1a1a1a"/>
<path d="M132.80,231.10 L135.10,235.40 L130.50,235.40 Z" fill="#1a1a1a"/>
<path d="M141.80,231.10 L144.10,235.40 L139.50,235.40 Z" fill="#1a1a1a"/>
<path d="M151.20,230.50 L153.50,234.80 L148.90,234.80 Z" fill="#1a1a1a"/>
<line x1="194.0" y1="169.1" x2="194.0" y2="245.5" stroke="#787878" stroke-width="1"/>
<line x1="192.0" y1="180.30" x2="194.0" y2="180.30" stroke="#787878" stroke-width="0.8"/>
<text transform="translate(189.40,182.90) scale(1,1.1)" font-size="6.2" text-anchor="end" fill="#2b2b2b" color="#2b2b2b" >100</text>
<line x1="192.0" y1="193.88" x2="194.0" y2="193.88" stroke="#787878" stroke-width="0.8"/>
<text transform="translate(189.40,196.47) scale(1,1.1)" font-size="6.2" text-anchor="end" fill="#2b2b2b" color="#2b2b2b" >75</text>
<line x1="192.0" y1="207.45" x2="194.0" y2="207.45" stroke="#787878" stroke-width="0.8"/>
<text transform="translate(189.40,210.05) scale(1,1.1)" font-size="6.2" text-anchor="end" fill="#2b2b2b" color="#2b2b2b" >50</text>
<line x1="192.0" y1="221.03" x2="194.0" y2="221.03" stroke="#787878" stroke-width="0.8"/>
<text transform="translate(189.40,223.62) scale(1,1.1)" font-size="6.2" text-anchor="end" fill="#2b2b2b" color="#2b2b2b" >25</text>
<line x1="192.0" y1="234.60" x2="194.0" y2="234.60" stroke="#787878" stroke-width="0.8"/>
<text transform="translate(189.40,237.20) scale(1,1.1)" font-size="6.2" text-anchor="end" fill="#2b2b2b" color="#2b2b2b" >0</text>
<line x1="196.5" y1="249.8" x2="314.1" y2="249.8" stroke="#555" stroke-width="1.1"/>
<line x1="197.10" y1="249.8" x2="197.10" y2="251.3" stroke="#787878" stroke-width="0.8"/>
<line x1="202.96" y1="249.8" x2="202.96" y2="248.70000000000002" stroke="#888" stroke-width="0.5"/>
<line x1="206.38" y1="249.8" x2="206.38" y2="248.70000000000002" stroke="#888" stroke-width="0.5"/>
<line x1="208.81" y1="249.8" x2="208.81" y2="248.70000000000002" stroke="#888" stroke-width="0.5"/>
<line x1="210.69" y1="249.8" x2="210.69" y2="248.70000000000002" stroke="#888" stroke-width="0.5"/>
<line x1="212.24" y1="249.8" x2="212.24" y2="248.70000000000002" stroke="#888" stroke-width="0.5"/>
<line x1="213.54" y1="249.8" x2="213.54" y2="248.70000000000002" stroke="#888" stroke-width="0.5"/>
<line x1="214.67" y1="249.8" x2="214.67" y2="248.70000000000002" stroke="#888" stroke-width="0.5"/>
<line x1="215.66" y1="249.8" x2="215.66" y2="248.70000000000002" stroke="#888" stroke-width="0.5"/>
<text transform="translate(197.10,258.50) scale(1,1.1)" font-size="6.55" text-anchor="middle" fill="#2b2b2b" color="#2b2b2b" >0.01</text>
<line x1="216.55" y1="249.8" x2="216.55" y2="251.3" stroke="#787878" stroke-width="0.8"/>
<line x1="222.41" y1="249.8" x2="222.41" y2="248.70000000000002" stroke="#888" stroke-width="0.5"/>
<line x1="225.83" y1="249.8" x2="225.83" y2="248.70000000000002" stroke="#888" stroke-width="0.5"/>
<line x1="228.26" y1="249.8" x2="228.26" y2="248.70000000000002" stroke="#888" stroke-width="0.5"/>
<line x1="230.14" y1="249.8" x2="230.14" y2="248.70000000000002" stroke="#888" stroke-width="0.5"/>
<line x1="231.69" y1="249.8" x2="231.69" y2="248.70000000000002" stroke="#888" stroke-width="0.5"/>
<line x1="232.99" y1="249.8" x2="232.99" y2="248.70000000000002" stroke="#888" stroke-width="0.5"/>
<line x1="234.12" y1="249.8" x2="234.12" y2="248.70000000000002" stroke="#888" stroke-width="0.5"/>
<line x1="235.11" y1="249.8" x2="235.11" y2="248.70000000000002" stroke="#888" stroke-width="0.5"/>
<text transform="translate(215.90,258.50) scale(1,1.1)" font-size="6.55" text-anchor="middle" fill="#2b2b2b" color="#2b2b2b" >0.1</text>
<line x1="236.00" y1="249.8" x2="236.00" y2="251.3" stroke="#787878" stroke-width="0.8"/>
<line x1="241.86" y1="249.8" x2="241.86" y2="248.70000000000002" stroke="#888" stroke-width="0.5"/>
<line x1="245.28" y1="249.8" x2="245.28" y2="248.70000000000002" stroke="#888" stroke-width="0.5"/>
<line x1="247.71" y1="249.8" x2="247.71" y2="248.70000000000002" stroke="#888" stroke-width="0.5"/>
<line x1="249.59" y1="249.8" x2="249.59" y2="248.70000000000002" stroke="#888" stroke-width="0.5"/>
<line x1="251.14" y1="249.8" x2="251.14" y2="248.70000000000002" stroke="#888" stroke-width="0.5"/>
<line x1="252.44" y1="249.8" x2="252.44" y2="248.70000000000002" stroke="#888" stroke-width="0.5"/>
<line x1="253.57" y1="249.8" x2="253.57" y2="248.70000000000002" stroke="#888" stroke-width="0.5"/>
<line x1="254.56" y1="249.8" x2="254.56" y2="248.70000000000002" stroke="#888" stroke-width="0.5"/>
<text transform="translate(235.25,258.50) scale(1,1.1)" font-size="6.55" text-anchor="middle" fill="#2b2b2b" color="#2b2b2b" >1</text>
<line x1="255.45" y1="249.8" x2="255.45" y2="251.3" stroke="#787878" stroke-width="0.8"/>
<line x1="261.31" y1="249.8" x2="261.31" y2="248.70000000000002" stroke="#888" stroke-width="0.5"/>
<line x1="264.73" y1="249.8" x2="264.73" y2="248.70000000000002" stroke="#888" stroke-width="0.5"/>
<line x1="267.16" y1="249.8" x2="267.16" y2="248.70000000000002" stroke="#888" stroke-width="0.5"/>
<line x1="269.04" y1="249.8" x2="269.04" y2="248.70000000000002" stroke="#888" stroke-width="0.5"/>
<line x1="270.59" y1="249.8" x2="270.59" y2="248.70000000000002" stroke="#888" stroke-width="0.5"/>
<line x1="271.89" y1="249.8" x2="271.89" y2="248.70000000000002" stroke="#888" stroke-width="0.5"/>
<line x1="273.02" y1="249.8" x2="273.02" y2="248.70000000000002" stroke="#888" stroke-width="0.5"/>
<line x1="274.01" y1="249.8" x2="274.01" y2="248.70000000000002" stroke="#888" stroke-width="0.5"/>
<text transform="translate(254.90,258.50) scale(1,1.1)" font-size="6.55" text-anchor="middle" fill="#2b2b2b" color="#2b2b2b" >10</text>
<line x1="274.90" y1="249.8" x2="274.90" y2="251.3" stroke="#787878" stroke-width="0.8"/>
<line x1="280.76" y1="249.8" x2="280.76" y2="248.70000000000002" stroke="#888" stroke-width="0.5"/>
<line x1="284.18" y1="249.8" x2="284.18" y2="248.70000000000002" stroke="#888" stroke-width="0.5"/>
<line x1="286.61" y1="249.8" x2="286.61" y2="248.70000000000002" stroke="#888" stroke-width="0.5"/>
<line x1="288.49" y1="249.8" x2="288.49" y2="248.70000000000002" stroke="#888" stroke-width="0.5"/>
<line x1="290.04" y1="249.8" x2="290.04" y2="248.70000000000002" stroke="#888" stroke-width="0.5"/>
<line x1="291.34" y1="249.8" x2="291.34" y2="248.70000000000002" stroke="#888" stroke-width="0.5"/>
<line x1="292.47" y1="249.8" x2="292.47" y2="248.70000000000002" stroke="#888" stroke-width="0.5"/>
<line x1="293.46" y1="249.8" x2="293.46" y2="248.70000000000002" stroke="#888" stroke-width="0.5"/>
<text transform="translate(275.00,258.50) scale(1,1.1)" font-size="6.55" text-anchor="middle" fill="#2b2b2b" color="#2b2b2b" >100</text>
<line x1="294.35" y1="249.8" x2="294.35" y2="251.3" stroke="#787878" stroke-width="0.8"/>
<line x1="300.21" y1="249.8" x2="300.21" y2="248.70000000000002" stroke="#888" stroke-width="0.5"/>
<line x1="303.63" y1="249.8" x2="303.63" y2="248.70000000000002" stroke="#888" stroke-width="0.5"/>
<line x1="306.06" y1="249.8" x2="306.06" y2="248.70000000000002" stroke="#888" stroke-width="0.5"/>
<line x1="307.94" y1="249.8" x2="307.94" y2="248.70000000000002" stroke="#888" stroke-width="0.5"/>
<line x1="309.49" y1="249.8" x2="309.49" y2="248.70000000000002" stroke="#888" stroke-width="0.5"/>
<line x1="310.79" y1="249.8" x2="310.79" y2="248.70000000000002" stroke="#888" stroke-width="0.5"/>
<line x1="311.92" y1="249.8" x2="311.92" y2="248.70000000000002" stroke="#888" stroke-width="0.5"/>
<line x1="312.91" y1="249.8" x2="312.91" y2="248.70000000000002" stroke="#888" stroke-width="0.5"/>
<text transform="translate(292.50,258.50) scale(1,1.1)" font-size="6.55" text-anchor="middle" fill="#2b2b2b" color="#2b2b2b" >1,000</text>
<line x1="313.80" y1="249.8" x2="313.80" y2="251.3" stroke="#787878" stroke-width="0.8"/>
<text transform="translate(314.50,258.50) scale(1,1.1)" font-size="6.55" text-anchor="middle" fill="#2b2b2b" color="#2b2b2b" >10,000</text>
<text transform="translate(255.90,271.50) scale(1,1.1)" font-size="8.9" text-anchor="middle" fill="#2b2b2b" color="#2b2b2b" >Drug concentration (nmol/L)</text>
<text transform="translate(171.7,208.3) rotate(-90) scale(1,1.1)" font-size="8.85" text-anchor="middle" fill="#2b2b2b" color="#2b2b2b">pERK (% of control)</text>
<text transform="translate(254.20,168.70) scale(1,1.1)" font-size="8.8" text-anchor="middle" fill="#222" color="#222" >ETV6-TRKC G623R</text>
<text transform="translate(199.10,235.90) scale(1,1.1)" font-size="6.45" text-anchor="start" fill="#333" color="#333" >&gt;10,000</text>
<text transform="translate(198.90,246.70) scale(1,1.1)" font-size="6.5" text-anchor="start" fill="#d04a5c" color="#d04a5c" >45.5 ± 20</text>
<path d="M211.00,180.57 L212.73,180.58 L214.46,180.59 L216.19,180.60 L217.92,180.62 L219.64,180.64 L221.37,180.66 L223.10,180.69 L224.83,180.73 L226.56,180.78 L228.29,180.84 L230.02,180.92 L231.75,181.02 L233.47,181.14 L235.20,181.29 L236.93,181.48 L238.66,181.73 L240.39,182.03 L242.12,182.40 L243.85,182.87 L245.58,183.44 L247.31,184.15 L249.03,185.02 L250.76,186.07 L252.49,187.34 L254.22,188.85 L255.95,190.62 L257.68,192.68 L259.41,195.02 L261.14,197.63 L262.86,200.49 L264.59,203.53 L266.32,206.69 L268.05,209.90 L269.78,213.05 L271.51,216.08 L273.24,218.91 L274.97,221.50 L276.69,223.81 L278.42,225.84 L280.15,227.59 L281.88,229.07 L283.61,230.32 L285.34,231.35 L287.07,232.20 L288.80,232.89 L290.53,233.46 L292.25,233.91 L293.98,234.28 L295.71,234.57 L297.44,234.81 L299.17,235.00 L300.90,235.15 L302.63,235.27 L304.36,235.36 L306.08,235.44 L307.81,235.50 L309.54,235.55 L311.27,235.58 L313.00,235.61" fill="none" stroke="#d91e36" stroke-width="1.4"/>
<circle cx="211.40" cy="179.50" r="2.2" fill="#d91e36"/>
<circle cx="248.90" cy="186.50" r="2.2" fill="#d91e36"/>
<circle cx="258.00" cy="193.10" r="2.2" fill="#d91e36"/>
<circle cx="267.30" cy="207.30" r="2.2" fill="#d91e36"/>
<circle cx="276.40" cy="224.20" r="2.2" fill="#d91e36"/>
<circle cx="285.40" cy="232.20" r="2.2" fill="#d91e36"/>
<circle cx="294.70" cy="234.40" r="2.2" fill="#d91e36"/>
<circle cx="303.90" cy="234.70" r="2.2" fill="#d91e36"/>
<circle cx="313.00" cy="235.40" r="2.2" fill="#d91e36"/>
<line x1="258" y1="188.5" x2="258" y2="193" stroke="#d91e36" stroke-width="0.7"/>
<line x1="257" y1="188.5" x2="259" y2="188.5" stroke="#d91e36" stroke-width="0.7"/>
<line x1="267.3" y1="203" x2="267.3" y2="207" stroke="#d91e36" stroke-width="0.7"/>
<line x1="266.3" y1="203" x2="268.3" y2="203" stroke="#d91e36" stroke-width="0.7"/>
<path d="M211.40,183.20 L213.13,183.20 L214.85,183.20 L216.58,183.20 L218.30,183.20 L220.03,183.20 L221.75,183.20 L223.48,183.20 L225.20,183.20 L226.93,183.20 L228.65,183.20 L230.38,183.20 L232.11,183.20 L233.83,183.20 L235.56,183.20 L237.28,183.20 L239.01,183.20 L240.73,183.20 L242.46,183.20 L244.18,183.20 L245.91,183.20 L247.63,183.20 L249.36,183.20 L251.08,183.20 L252.81,183.20 L254.54,183.20 L256.26,183.20 L257.99,183.20 L259.71,183.20 L261.44,183.20 L263.16,183.20 L264.89,183.20 L266.61,183.20 L268.34,183.20 L270.06,183.20 L271.79,183.20 L273.52,183.21 L275.24,183.21 L276.97,183.21 L278.69,183.22 L280.42,183.23 L282.14,183.25 L283.87,183.27 L285.59,183.30 L287.32,183.35 L289.04,183.41 L290.77,183.51 L292.49,183.66 L294.22,183.87 L295.95,184.18 L297.67,184.63 L299.40,185.29 L301.12,186.22 L302.85,187.55 L304.57,189.42 L306.30,192.00 L308.02,195.46 L309.75,199.93 L311.47,205.49 L313.20,211.99" fill="none" stroke="#1a1a1a" stroke-width="1.7" stroke-dasharray="2.3,1.3"/>
<line x1="221" y1="174.5" x2="221" y2="178" stroke="#1a1a1a" stroke-width="0.7"/>
<line x1="219.8" y1="174.5" x2="222.2" y2="174.5" stroke="#1a1a1a" stroke-width="0.7"/>
<line x1="285.1" y1="179.5" x2="285.1" y2="182.4" stroke="#1a1a1a" stroke-width="0.7"/>
<line x1="283.90000000000003" y1="179.5" x2="286.3" y2="179.5" stroke="#1a1a1a" stroke-width="0.7"/>
<line x1="293.9" y1="181" x2="293.9" y2="184" stroke="#1a1a1a" stroke-width="0.7"/>
<line x1="292.7" y1="181" x2="295.09999999999997" y2="181" stroke="#1a1a1a" stroke-width="0.7"/>
<line x1="303.4" y1="186.5" x2="303.4" y2="190" stroke="#1a1a1a" stroke-width="0.7"/>
<line x1="302.2" y1="186.5" x2="304.59999999999997" y2="186.5" stroke="#1a1a1a" stroke-width="0.7"/>
<path d="M211.40,176.90 L213.70,181.20 L209.10,181.20 Z" fill="#1a1a1a"/>
<path d="M221.00,175.40 L223.30,179.70 L218.70,179.70 Z" fill="#1a1a1a"/>
<path d="M230.10,181.30 L232.40,185.60 L227.80,185.60 Z" fill="#1a1a1a"/>
<path d="M239.20,182.00 L241.50,186.30 L236.90,186.30 Z" fill="#1a1a1a"/>
<path d="M248.90,182.80 L251.20,187.10 L246.60,187.10 Z" fill="#1a1a1a"/>
<path d="M258.00,182.40 L260.30,186.70 L255.70,186.70 Z" fill="#1a1a1a"/>
<path d="M267.30,182.00 L269.60,186.30 L265.00,186.30 Z" fill="#1a1a1a"/>
<path d="M276.40,181.30 L278.70,185.60 L274.10,185.60 Z" fill="#1a1a1a"/>
<path d="M285.10,179.80 L287.40,184.10 L282.80,184.10 Z" fill="#1a1a1a"/>
<path d="M293.90,181.30 L296.20,185.60 L291.60,185.60 Z" fill="#1a1a1a"/>
<path d="M303.40,187.60 L305.70,191.90 L301.10,191.90 Z" fill="#1a1a1a"/>
<path d="M313.20,210.60 L315.50,214.90 L310.90,214.90 Z" fill="#1a1a1a"/>
<line x1="355.5" y1="169.1" x2="355.5" y2="245.5" stroke="#787878" stroke-width="1"/>
<line x1="353.5" y1="180.30" x2="355.5" y2="180.30" stroke="#787878" stroke-width="0.8"/>
<text transform="translate(350.90,182.90) scale(1,1.1)" font-size="6.2" text-anchor="end" fill="#2b2b2b" color="#2b2b2b" >100</text>
<line x1="353.5" y1="193.88" x2="355.5" y2="193.88" stroke="#787878" stroke-width="0.8"/>
<text transform="translate(350.90,196.47) scale(1,1.1)" font-size="6.2" text-anchor="end" fill="#2b2b2b" color="#2b2b2b" >75</text>
<line x1="353.5" y1="207.45" x2="355.5" y2="207.45" stroke="#787878" stroke-width="0.8"/>
<text transform="translate(350.90,210.05) scale(1,1.1)" font-size="6.2" text-anchor="end" fill="#2b2b2b" color="#2b2b2b" >50</text>
<line x1="353.5" y1="221.03" x2="355.5" y2="221.03" stroke="#787878" stroke-width="0.8"/>
<text transform="translate(350.90,223.62) scale(1,1.1)" font-size="6.2" text-anchor="end" fill="#2b2b2b" color="#2b2b2b" >25</text>
<line x1="353.5" y1="234.60" x2="355.5" y2="234.60" stroke="#787878" stroke-width="0.8"/>
<text transform="translate(350.90,237.20) scale(1,1.1)" font-size="6.2" text-anchor="end" fill="#2b2b2b" color="#2b2b2b" >0</text>
<line x1="358.0" y1="249.8" x2="475.6" y2="249.8" stroke="#555" stroke-width="1.1"/>
<line x1="358.60" y1="249.8" x2="358.60" y2="251.3" stroke="#787878" stroke-width="0.8"/>
<line x1="364.46" y1="249.8" x2="364.46" y2="248.70000000000002" stroke="#888" stroke-width="0.5"/>
<line x1="367.88" y1="249.8" x2="367.88" y2="248.70000000000002" stroke="#888" stroke-width="0.5"/>
<line x1="370.31" y1="249.8" x2="370.31" y2="248.70000000000002" stroke="#888" stroke-width="0.5"/>
<line x1="372.19" y1="249.8" x2="372.19" y2="248.70000000000002" stroke="#888" stroke-width="0.5"/>
<line x1="373.74" y1="249.8" x2="373.74" y2="248.70000000000002" stroke="#888" stroke-width="0.5"/>
<line x1="375.04" y1="249.8" x2="375.04" y2="248.70000000000002" stroke="#888" stroke-width="0.5"/>
<line x1="376.17" y1="249.8" x2="376.17" y2="248.70000000000002" stroke="#888" stroke-width="0.5"/>
<line x1="377.16" y1="249.8" x2="377.16" y2="248.70000000000002" stroke="#888" stroke-width="0.5"/>
<text transform="translate(358.60,258.50) scale(1,1.1)" font-size="6.55" text-anchor="middle" fill="#2b2b2b" color="#2b2b2b" >0.01</text>
<line x1="378.05" y1="249.8" x2="378.05" y2="251.3" stroke="#787878" stroke-width="0.8"/>
<line x1="383.91" y1="249.8" x2="383.91" y2="248.70000000000002" stroke="#888" stroke-width="0.5"/>
<line x1="387.33" y1="249.8" x2="387.33" y2="248.70000000000002" stroke="#888" stroke-width="0.5"/>
<line x1="389.76" y1="249.8" x2="389.76" y2="248.70000000000002" stroke="#888" stroke-width="0.5"/>
<line x1="391.64" y1="249.8" x2="391.64" y2="248.70000000000002" stroke="#888" stroke-width="0.5"/>
<line x1="393.19" y1="249.8" x2="393.19" y2="248.70000000000002" stroke="#888" stroke-width="0.5"/>
<line x1="394.49" y1="249.8" x2="394.49" y2="248.70000000000002" stroke="#888" stroke-width="0.5"/>
<line x1="395.62" y1="249.8" x2="395.62" y2="248.70000000000002" stroke="#888" stroke-width="0.5"/>
<line x1="396.61" y1="249.8" x2="396.61" y2="248.70000000000002" stroke="#888" stroke-width="0.5"/>
<text transform="translate(377.40,258.50) scale(1,1.1)" font-size="6.55" text-anchor="middle" fill="#2b2b2b" color="#2b2b2b" >0.1</text>
<line x1="397.50" y1="249.8" x2="397.50" y2="251.3" stroke="#787878" stroke-width="0.8"/>
<line x1="403.36" y1="249.8" x2="403.36" y2="248.70000000000002" stroke="#888" stroke-width="0.5"/>
<line x1="406.78" y1="249.8" x2="406.78" y2="248.70000000000002" stroke="#888" stroke-width="0.5"/>
<line x1="409.21" y1="249.8" x2="409.21" y2="248.70000000000002" stroke="#888" stroke-width="0.5"/>
<line x1="411.09" y1="249.8" x2="411.09" y2="248.70000000000002" stroke="#888" stroke-width="0.5"/>
<line x1="412.64" y1="249.8" x2="412.64" y2="248.70000000000002" stroke="#888" stroke-width="0.5"/>
<line x1="413.94" y1="249.8" x2="413.94" y2="248.70000000000002" stroke="#888" stroke-width="0.5"/>
<line x1="415.07" y1="249.8" x2="415.07" y2="248.70000000000002" stroke="#888" stroke-width="0.5"/>
<line x1="416.06" y1="249.8" x2="416.06" y2="248.70000000000002" stroke="#888" stroke-width="0.5"/>
<text transform="translate(396.75,258.50) scale(1,1.1)" font-size="6.55" text-anchor="middle" fill="#2b2b2b" color="#2b2b2b" >1</text>
<line x1="416.95" y1="249.8" x2="416.95" y2="251.3" stroke="#787878" stroke-width="0.8"/>
<line x1="422.81" y1="249.8" x2="422.81" y2="248.70000000000002" stroke="#888" stroke-width="0.5"/>
<line x1="426.23" y1="249.8" x2="426.23" y2="248.70000000000002" stroke="#888" stroke-width="0.5"/>
<line x1="428.66" y1="249.8" x2="428.66" y2="248.70000000000002" stroke="#888" stroke-width="0.5"/>
<line x1="430.54" y1="249.8" x2="430.54" y2="248.70000000000002" stroke="#888" stroke-width="0.5"/>
<line x1="432.09" y1="249.8" x2="432.09" y2="248.70000000000002" stroke="#888" stroke-width="0.5"/>
<line x1="433.39" y1="249.8" x2="433.39" y2="248.70000000000002" stroke="#888" stroke-width="0.5"/>
<line x1="434.52" y1="249.8" x2="434.52" y2="248.70000000000002" stroke="#888" stroke-width="0.5"/>
<line x1="435.51" y1="249.8" x2="435.51" y2="248.70000000000002" stroke="#888" stroke-width="0.5"/>
<text transform="translate(416.40,258.50) scale(1,1.1)" font-size="6.55" text-anchor="middle" fill="#2b2b2b" color="#2b2b2b" >10</text>
<line x1="436.40" y1="249.8" x2="436.40" y2="251.3" stroke="#787878" stroke-width="0.8"/>
<line x1="442.26" y1="249.8" x2="442.26" y2="248.70000000000002" stroke="#888" stroke-width="0.5"/>
<line x1="445.68" y1="249.8" x2="445.68" y2="248.70000000000002" stroke="#888" stroke-width="0.5"/>
<line x1="448.11" y1="249.8" x2="448.11" y2="248.70000000000002" stroke="#888" stroke-width="0.5"/>
<line x1="449.99" y1="249.8" x2="449.99" y2="248.70000000000002" stroke="#888" stroke-width="0.5"/>
<line x1="451.54" y1="249.8" x2="451.54" y2="248.70000000000002" stroke="#888" stroke-width="0.5"/>
<line x1="452.84" y1="249.8" x2="452.84" y2="248.70000000000002" stroke="#888" stroke-width="0.5"/>
<line x1="453.97" y1="249.8" x2="453.97" y2="248.70000000000002" stroke="#888" stroke-width="0.5"/>
<line x1="454.96" y1="249.8" x2="454.96" y2="248.70000000000002" stroke="#888" stroke-width="0.5"/>
<text transform="translate(436.50,258.50) scale(1,1.1)" font-size="6.55" text-anchor="middle" fill="#2b2b2b" color="#2b2b2b" >100</text>
<line x1="455.85" y1="249.8" x2="455.85" y2="251.3" stroke="#787878" stroke-width="0.8"/>
<line x1="461.71" y1="249.8" x2="461.71" y2="248.70000000000002" stroke="#888" stroke-width="0.5"/>
<line x1="465.13" y1="249.8" x2="465.13" y2="248.70000000000002" stroke="#888" stroke-width="0.5"/>
<line x1="467.56" y1="249.8" x2="467.56" y2="248.70000000000002" stroke="#888" stroke-width="0.5"/>
<line x1="469.44" y1="249.8" x2="469.44" y2="248.70000000000002" stroke="#888" stroke-width="0.5"/>
<line x1="470.99" y1="249.8" x2="470.99" y2="248.70000000000002" stroke="#888" stroke-width="0.5"/>
<line x1="472.29" y1="249.8" x2="472.29" y2="248.70000000000002" stroke="#888" stroke-width="0.5"/>
<line x1="473.42" y1="249.8" x2="473.42" y2="248.70000000000002" stroke="#888" stroke-width="0.5"/>
<line x1="474.41" y1="249.8" x2="474.41" y2="248.70000000000002" stroke="#888" stroke-width="0.5"/>
<text transform="translate(454.00,258.50) scale(1,1.1)" font-size="6.55" text-anchor="middle" fill="#2b2b2b" color="#2b2b2b" >1,000</text>
<line x1="475.30" y1="249.8" x2="475.30" y2="251.3" stroke="#787878" stroke-width="0.8"/>
<text transform="translate(476.00,258.50) scale(1,1.1)" font-size="6.55" text-anchor="middle" fill="#2b2b2b" color="#2b2b2b" >10,000</text>
<text transform="translate(417.40,271.50) scale(1,1.1)" font-size="8.9" text-anchor="middle" fill="#2b2b2b" color="#2b2b2b" >Drug concentration (nmol/L)</text>
<text transform="translate(333.2,208.3) rotate(-90) scale(1,1.1)" font-size="8.85" text-anchor="middle" fill="#2b2b2b" color="#2b2b2b">pERK (% of control)</text>
<text transform="translate(415.70,168.70) scale(1,1.1)" font-size="8.8" text-anchor="middle" fill="#222" color="#222" >ETV6-TRKC G696A</text>
<text transform="translate(360.60,235.90) scale(1,1.1)" font-size="6.45" text-anchor="start" fill="#333" color="#333" >172 ± 54</text>
<text transform="translate(360.40,246.70) scale(1,1.1)" font-size="6.5" text-anchor="start" fill="#d04a5c" color="#d04a5c" >17.5 ± 4.8</text>
<path d="M373.00,182.03 L374.71,182.04 L376.42,182.06 L378.14,182.08 L379.85,182.11 L381.56,182.15 L383.27,182.20 L384.98,182.26 L386.69,182.34 L388.41,182.44 L390.12,182.57 L391.83,182.74 L393.54,182.94 L395.25,183.21 L396.97,183.54 L398.68,183.96 L400.39,184.48 L402.10,185.14 L403.81,185.96 L405.53,186.96 L407.24,188.18 L408.95,189.65 L410.66,191.40 L412.37,193.45 L414.08,195.79 L415.80,198.42 L417.51,201.30 L419.22,204.36 L420.93,207.53 L422.64,210.70 L424.36,213.80 L426.07,216.73 L427.78,219.43 L429.49,221.85 L431.20,223.98 L432.92,225.80 L434.63,227.35 L436.34,228.63 L438.05,229.69 L439.76,230.55 L441.47,231.24 L443.19,231.80 L444.90,232.25 L446.61,232.60 L448.32,232.88 L450.03,233.10 L451.75,233.28 L453.46,233.41 L455.17,233.52 L456.88,233.61 L458.59,233.67 L460.31,233.73 L462.02,233.77 L463.73,233.80 L465.44,233.82 L467.15,233.84 L468.86,233.86 L470.58,233.87 L472.29,233.88 L474.00,233.89" fill="none" stroke="#d91e36" stroke-width="1.4"/>
<circle cx="373.00" cy="183.50" r="2.2" fill="#d91e36"/>
<circle cx="382.00" cy="180.70" r="2.2" fill="#d91e36"/>
<circle cx="391.40" cy="183.00" r="2.2" fill="#d91e36"/>
<circle cx="400.50" cy="183.50" r="2.2" fill="#d91e36"/>
<circle cx="409.60" cy="191.40" r="2.2" fill="#d91e36"/>
<circle cx="418.60" cy="202.70" r="2.2" fill="#d91e36"/>
<circle cx="428.10" cy="219.90" r="2.2" fill="#d91e36"/>
<circle cx="437.50" cy="229.70" r="2.2" fill="#d91e36"/>
<circle cx="446.40" cy="232.80" r="2.2" fill="#d91e36"/>
<circle cx="455.50" cy="232.80" r="2.2" fill="#d91e36"/>
<circle cx="465.00" cy="234.00" r="2.2" fill="#d91e36"/>
<circle cx="473.60" cy="234.00" r="2.2" fill="#d91e36"/>
<line x1="409.6" y1="186.5" x2="409.6" y2="191" stroke="#d91e36" stroke-width="0.7"/>
<line x1="408.6" y1="186.5" x2="410.6" y2="186.5" stroke="#d91e36" stroke-width="0.7"/>
<line x1="418.6" y1="198" x2="418.6" y2="202" stroke="#d91e36" stroke-width="0.7"/>
<line x1="417.6" y1="198" x2="419.6" y2="198" stroke="#d91e36" stroke-width="0.7"/>
<path d="M373.00,179.26 L374.71,179.26 L376.41,179.26 L378.12,179.26 L379.82,179.26 L381.53,179.26 L383.23,179.27 L384.94,179.27 L386.64,179.27 L388.35,179.28 L390.05,179.29 L391.76,179.29 L393.46,179.31 L395.17,179.32 L396.87,179.34 L398.58,179.36 L400.28,179.39 L401.99,179.43 L403.69,179.49 L405.40,179.55 L407.10,179.64 L408.81,179.75 L410.51,179.90 L412.22,180.08 L413.92,180.32 L415.63,180.62 L417.33,181.01 L419.04,181.51 L420.74,182.14 L422.45,182.93 L424.15,183.91 L425.86,185.14 L427.56,186.64 L429.27,188.44 L430.97,190.58 L432.68,193.07 L434.38,195.90 L436.09,199.02 L437.79,202.38 L439.50,205.86 L441.20,209.37 L442.91,212.78 L444.61,216.00 L446.32,218.94 L448.02,221.56 L449.73,223.83 L451.43,225.76 L453.14,227.37 L454.84,228.69 L456.55,229.76 L458.25,230.62 L459.96,231.30 L461.66,231.85 L463.37,232.27 L465.07,232.61 L466.78,232.87 L468.48,233.07 L470.19,233.23 L471.89,233.35 L473.60,233.45" fill="none" stroke="#1a1a1a" stroke-width="1.7" stroke-dasharray="2.3,1.3"/>
<line x1="373" y1="174" x2="373" y2="178" stroke="#1a1a1a" stroke-width="0.7"/>
<line x1="371.8" y1="174" x2="374.2" y2="174" stroke="#1a1a1a" stroke-width="0.7"/>
<line x1="382" y1="176" x2="382" y2="180" stroke="#1a1a1a" stroke-width="0.7"/>
<line x1="380.8" y1="176" x2="383.2" y2="176" stroke="#1a1a1a" stroke-width="0.7"/>
<line x1="391.4" y1="175.5" x2="391.4" y2="180" stroke="#1a1a1a" stroke-width="0.7"/>
<line x1="390.2" y1="175.5" x2="392.59999999999997" y2="175.5" stroke="#1a1a1a" stroke-width="0.7"/>
<line x1="400.5" y1="173.5" x2="400.5" y2="178" stroke="#1a1a1a" stroke-width="0.7"/>
<line x1="399.3" y1="173.5" x2="401.7" y2="173.5" stroke="#1a1a1a" stroke-width="0.7"/>
<line x1="409.6" y1="176.5" x2="409.6" y2="181" stroke="#1a1a1a" stroke-width="0.7"/>
<line x1="408.40000000000003" y1="176.5" x2="410.8" y2="176.5" stroke="#1a1a1a" stroke-width="0.7"/>
<line x1="418.6" y1="177" x2="418.6" y2="181.5" stroke="#1a1a1a" stroke-width="0.7"/>
<line x1="417.40000000000003" y1="177" x2="419.8" y2="177" stroke="#1a1a1a" stroke-width="0.7"/>
<line x1="428.1" y1="183" x2="428.1" y2="188.5" stroke="#1a1a1a" stroke-width="0.7"/>
<line x1="426.90000000000003" y1="183" x2="429.3" y2="183" stroke="#1a1a1a" stroke-width="0.7"/>
<line x1="437.5" y1="195.5" x2="437.5" y2="200" stroke="#1a1a1a" stroke-width="0.7"/>
<line x1="436.3" y1="195.5" x2="438.7" y2="195.5" stroke="#1a1a1a" stroke-width="0.7"/>
<path d="M373.00,175.00 L375.30,179.30 L370.70,179.30 Z" fill="#1a1a1a"/>
<path d="M382.00,177.30 L384.30,181.60 L379.70,181.60 Z" fill="#1a1a1a"/>
<path d="M391.40,177.30 L393.70,181.60 L389.10,181.60 Z" fill="#1a1a1a"/>
<path d="M400.50,175.70 L402.80,180.00 L398.20,180.00 Z" fill="#1a1a1a"/>
<path d="M409.60,178.10 L411.90,182.40 L407.30,182.40 Z" fill="#1a1a1a"/>
<path d="M418.60,178.90 L420.90,183.20 L416.30,183.20 Z" fill="#1a1a1a"/>
<path d="M428.10,185.90 L430.40,190.20 L425.80,190.20 Z" fill="#1a1a1a"/>
<path d="M437.50,197.70 L439.80,202.00 L435.20,202.00 Z" fill="#1a1a1a"/>
<path d="M446.40,217.30 L448.70,221.60 L444.10,221.60 Z" fill="#1a1a1a"/>
<path d="M455.50,226.80 L457.80,231.10 L453.20,231.10 Z" fill="#1a1a1a"/>
<path d="M465.00,230.20 L467.30,234.50 L462.70,234.50 Z" fill="#1a1a1a"/>
<path d="M473.60,230.20 L475.90,234.50 L471.30,234.50 Z" fill="#1a1a1a"/>
<line x1="471.2" y1="178.75" x2="480.8" y2="178.75" stroke="#d91e36" stroke-width="1.4"/>
<circle cx="476.2" cy="178.75" r="2.1" fill="#d91e36"/>
<text transform="translate(482.60,181.05) scale(1,1.0)" font-size="6.95" text-anchor="start" fill="#333" color="#333" >LOXO-195</text>
<line x1="471.0" y1="185.6" x2="473.2" y2="185.6" stroke="#1a1a1a" stroke-width="1.5"/>
<line x1="479.2" y1="185.6" x2="481.2" y2="185.6" stroke="#1a1a1a" stroke-width="1.5"/>
<path d="M476.20,183.00 L478.50,187.30 L473.90,187.30 Z" fill="#1a1a1a"/>
<text transform="translate(482.60,188.00) scale(1,1.0)" font-size="6.95" text-anchor="start" fill="#333" color="#333" >Larotrectinib</text>
<line x1="40.8" y1="320" x2="40.8" y2="407.6" stroke="#787878" stroke-width="1"/>
<line x1="39.0" y1="407.10" x2="40.8" y2="407.10" stroke="#787878" stroke-width="0.8"/>
<line x1="39.599999999999994" y1="394.74" x2="40.8" y2="394.74" stroke="#787878" stroke-width="0.8"/>
<line x1="39.0" y1="382.37" x2="40.8" y2="382.37" stroke="#787878" stroke-width="0.8"/>
<line x1="39.599999999999994" y1="370.00" x2="40.8" y2="370.00" stroke="#787878" stroke-width="0.8"/>
<line x1="39.0" y1="357.64" x2="40.8" y2="357.64" stroke="#787878" stroke-width="0.8"/>
<line x1="39.599999999999994" y1="345.28" x2="40.8" y2="345.28" stroke="#787878" stroke-width="0.8"/>
<line x1="39.0" y1="332.91" x2="40.8" y2="332.91" stroke="#787878" stroke-width="0.8"/>
<text transform="translate(35.90,409.65) scale(1,1.1)" font-size="7.45" text-anchor="end" fill="#2b2b2b" color="#2b2b2b" >0</text>
<text transform="translate(35.90,384.92) scale(1,1.1)" font-size="7.45" text-anchor="end" fill="#2b2b2b" color="#2b2b2b" >1,000</text>
<text transform="translate(35.90,360.19) scale(1,1.1)" font-size="7.45" text-anchor="end" fill="#2b2b2b" color="#2b2b2b" >2,000</text>
<text transform="translate(35.90,335.46) scale(1,1.1)" font-size="7.45" text-anchor="end" fill="#2b2b2b" color="#2b2b2b" >3,000</text>
<line x1="44.9" y1="412.0" x2="121.39999999999999" y2="412.0" stroke="#595959" stroke-width="1.1"/>
<line x1="45.50" y1="412.0" x2="45.50" y2="413.6" stroke="#787878" stroke-width="0.8"/>
<text transform="translate(45.20,423.00) scale(1,1.1)" font-size="7.3" text-anchor="middle" fill="#2b2b2b" color="#2b2b2b" >0</text>
<line x1="51.80" y1="412.0" x2="51.80" y2="413.0" stroke="#787878" stroke-width="0.8"/>
<line x1="58.10" y1="412.0" x2="58.10" y2="413.6" stroke="#787878" stroke-width="0.8"/>
<text transform="translate(57.80,423.00) scale(1,1.1)" font-size="7.3" text-anchor="middle" fill="#2b2b2b" color="#2b2b2b" >2</text>
<line x1="64.40" y1="412.0" x2="64.40" y2="413.0" stroke="#787878" stroke-width="0.8"/>
<line x1="70.70" y1="412.0" x2="70.70" y2="413.6" stroke="#787878" stroke-width="0.8"/>
<text transform="translate(70.40,423.00) scale(1,1.1)" font-size="7.3" text-anchor="middle" fill="#2b2b2b" color="#2b2b2b" >4</text>
<line x1="77.00" y1="412.0" x2="77.00" y2="413.0" stroke="#787878" stroke-width="0.8"/>
<line x1="83.30" y1="412.0" x2="83.30" y2="413.6" stroke="#787878" stroke-width="0.8"/>
<text transform="translate(83.00,423.00) scale(1,1.1)" font-size="7.3" text-anchor="middle" fill="#2b2b2b" color="#2b2b2b" >6</text>
<line x1="89.60" y1="412.0" x2="89.60" y2="413.0" stroke="#787878" stroke-width="0.8"/>
<line x1="95.90" y1="412.0" x2="95.90" y2="413.6" stroke="#787878" stroke-width="0.8"/>
<text transform="translate(95.60,423.00) scale(1,1.1)" font-size="7.3" text-anchor="middle" fill="#2b2b2b" color="#2b2b2b" >8</text>
<line x1="102.20" y1="412.0" x2="102.20" y2="413.0" stroke="#787878" stroke-width="0.8"/>
<line x1="108.50" y1="412.0" x2="108.50" y2="413.6" stroke="#787878" stroke-width="0.8"/>
<text transform="translate(108.20,423.00) scale(1,1.1)" font-size="7.3" text-anchor="middle" fill="#2b2b2b" color="#2b2b2b" >10</text>
<line x1="114.80" y1="412.0" x2="114.80" y2="413.0" stroke="#787878" stroke-width="0.8"/>
<line x1="121.10" y1="412.0" x2="121.10" y2="413.6" stroke="#787878" stroke-width="0.8"/>
<text transform="translate(120.80,423.00) scale(1,1.1)" font-size="7.3" text-anchor="middle" fill="#2b2b2b" color="#2b2b2b" >12</text>
<text transform="translate(81.20,436.00) scale(1,1.1)" font-size="8.7" text-anchor="middle" fill="#2b2b2b" color="#2b2b2b" >Day</text>
<text transform="translate(81.20,308.80) scale(1,1.1)" font-size="8.6" text-anchor="middle" fill="#222" color="#222" >KM12</text>
<text transform="translate(81.20,319.20) scale(1,1.1)" font-size="8.6" text-anchor="middle" fill="#222" color="#222" >TPM3-TRKA</text>
<text transform="translate(10.0,365.0) rotate(-90) scale(1,1.1)" font-size="8.95" text-anchor="middle" fill="#2b2b2b" color="#2b2b2b">Tumor volume (mm<tspan font-size="5.8" dy="-3">3</tspan><tspan dy="3">)</tspan></text>
<line x1="89.6" y1="368.5" x2="89.6" y2="382.3" stroke="#1a1a1a" stroke-width="0.8"/>
<line x1="87.8" y1="368.5" x2="91.39999999999999" y2="368.5" stroke="#1a1a1a" stroke-width="0.8"/>
<line x1="87.8" y1="382.3" x2="91.39999999999999" y2="382.3" stroke="#1a1a1a" stroke-width="0.8"/>
<path d="M51.50,403.10 L64.20,398.50 L70.80,393.50 L89.60,375.40" fill="none" stroke="#1a1a1a" stroke-width="1.3"/>
<circle cx="51.5" cy="403.1" r="3.05" fill="#1a1a1a"/>
<circle cx="64.2" cy="398.5" r="3.05" fill="#1a1a1a"/>
<circle cx="70.8" cy="393.5" r="3.05" fill="#1a1a1a"/>
<circle cx="89.6" cy="375.4" r="3.05" fill="#1a1a1a"/>
<path d="M70.80,401.20 L89.60,398.40 L101.90,396.60 L115.00,390.00" fill="none" stroke="#ea1d30" stroke-width="1.3"/>
<circle cx="70.8" cy="401.2" r="2.95" fill="#ea1d30"/>
<circle cx="89.6" cy="398.4" r="2.95" fill="#ea1d30"/>
<circle cx="101.9" cy="396.6" r="2.95" fill="#ea1d30"/>
<circle cx="115" cy="390" r="2.95" fill="#ea1d30"/>
<path d="M51.50,402.90 L64.20,404.30 L70.80,401.80 L89.60,402.40 L101.90,402.40 L115.00,398.40" fill="none" stroke="#7a2048" stroke-width="1.2"/>
<rect x="48.50" y="400.00" width="6.0" height="5.8" fill="#2c2452"/>
<path d="M51.50,400.50 L53.90,405.40 L49.10,405.40 Z" fill="#fff" stroke="#3a2a60" stroke-width="0.5"/>
<rect x="61.20" y="401.40" width="6.0" height="5.8" fill="#8a2a55"/>
<path d="M64.20,401.90 L66.60,406.80 L61.80,406.80 Z" fill="#fff" stroke="#3a2a60" stroke-width="0.5"/>
<rect x="67.80" y="398.90" width="6.0" height="5.8" fill="#8a2a55"/>
<path d="M70.80,399.40 L73.20,404.30 L68.40,404.30 Z" fill="#fff" stroke="#3a2a60" stroke-width="0.5"/>
<rect x="86.60" y="399.50" width="6.0" height="5.8" fill="#8a2a55"/>
<path d="M89.60,400.00 L92.00,404.90 L87.20,404.90 Z" fill="#fff" stroke="#3a2a60" stroke-width="0.5"/>
<rect x="98.90" y="399.50" width="6.0" height="5.8" fill="#8a2a55"/>
<path d="M101.90,400.00 L104.30,404.90 L99.50,404.90 Z" fill="#fff" stroke="#3a2a60" stroke-width="0.5"/>
<rect x="112.00" y="395.50" width="6.0" height="5.8" fill="#8a2a55"/>
<path d="M115.00,396.00 L117.40,400.90 L112.60,400.90 Z" fill="#fff" stroke="#3a2a60" stroke-width="0.5"/>
<line x1="169.0" y1="320" x2="169.0" y2="407.6" stroke="#787878" stroke-width="1"/>
<line x1="167.2" y1="407.10" x2="169.0" y2="407.10" stroke="#787878" stroke-width="0.8"/>
<line x1="167.8" y1="394.74" x2="169.0" y2="394.74" stroke="#787878" stroke-width="0.8"/>
<line x1="167.2" y1="382.37" x2="169.0" y2="382.37" stroke="#787878" stroke-width="0.8"/>
<line x1="167.8" y1="370.00" x2="169.0" y2="370.00" stroke="#787878" stroke-width="0.8"/>
<line x1="167.2" y1="357.64" x2="169.0" y2="357.64" stroke="#787878" stroke-width="0.8"/>
<line x1="167.8" y1="345.28" x2="169.0" y2="345.28" stroke="#787878" stroke-width="0.8"/>
<line x1="167.2" y1="332.91" x2="169.0" y2="332.91" stroke="#787878" stroke-width="0.8"/>
<text transform="translate(164.10,409.65) scale(1,1.1)" font-size="7.45" text-anchor="end" fill="#2b2b2b" color="#2b2b2b" >0</text>
<text transform="translate(164.10,384.92) scale(1,1.1)" font-size="7.45" text-anchor="end" fill="#2b2b2b" color="#2b2b2b" >1,000</text>
<text transform="translate(164.10,360.19) scale(1,1.1)" font-size="7.45" text-anchor="end" fill="#2b2b2b" color="#2b2b2b" >2,000</text>
<text transform="translate(164.10,335.46) scale(1,1.1)" font-size="7.45" text-anchor="end" fill="#2b2b2b" color="#2b2b2b" >3,000</text>
<line x1="173.1" y1="412.0" x2="249.6" y2="412.0" stroke="#595959" stroke-width="1.1"/>
<line x1="173.70" y1="412.0" x2="173.70" y2="413.6" stroke="#787878" stroke-width="0.8"/>
<text transform="translate(173.40,423.00) scale(1,1.1)" font-size="7.3" text-anchor="middle" fill="#2b2b2b" color="#2b2b2b" >0</text>
<line x1="180.00" y1="412.0" x2="180.00" y2="413.0" stroke="#787878" stroke-width="0.8"/>
<line x1="186.30" y1="412.0" x2="186.30" y2="413.6" stroke="#787878" stroke-width="0.8"/>
<text transform="translate(186.00,423.00) scale(1,1.1)" font-size="7.3" text-anchor="middle" fill="#2b2b2b" color="#2b2b2b" >2</text>
<line x1="192.60" y1="412.0" x2="192.60" y2="413.0" stroke="#787878" stroke-width="0.8"/>
<line x1="198.90" y1="412.0" x2="198.90" y2="413.6" stroke="#787878" stroke-width="0.8"/>
<text transform="translate(198.60,423.00) scale(1,1.1)" font-size="7.3" text-anchor="middle" fill="#2b2b2b" color="#2b2b2b" >4</text>
<line x1="205.20" y1="412.0" x2="205.20" y2="413.0" stroke="#787878" stroke-width="0.8"/>
<line x1="211.50" y1="412.0" x2="211.50" y2="413.6" stroke="#787878" stroke-width="0.8"/>
<text transform="translate(211.20,423.00) scale(1,1.1)" font-size="7.3" text-anchor="middle" fill="#2b2b2b" color="#2b2b2b" >6</text>
<line x1="217.80" y1="412.0" x2="217.80" y2="413.0" stroke="#787878" stroke-width="0.8"/>
<line x1="224.10" y1="412.0" x2="224.10" y2="413.6" stroke="#787878" stroke-width="0.8"/>
<text transform="translate(223.80,423.00) scale(1,1.1)" font-size="7.3" text-anchor="middle" fill="#2b2b2b" color="#2b2b2b" >8</text>
<line x1="230.40" y1="412.0" x2="230.40" y2="413.0" stroke="#787878" stroke-width="0.8"/>
<line x1="236.70" y1="412.0" x2="236.70" y2="413.6" stroke="#787878" stroke-width="0.8"/>
<text transform="translate(236.40,423.00) scale(1,1.1)" font-size="7.3" text-anchor="middle" fill="#2b2b2b" color="#2b2b2b" >10</text>
<line x1="243.00" y1="412.0" x2="243.00" y2="413.0" stroke="#787878" stroke-width="0.8"/>
<line x1="249.30" y1="412.0" x2="249.30" y2="413.6" stroke="#787878" stroke-width="0.8"/>
<text transform="translate(249.00,423.00) scale(1,1.1)" font-size="7.3" text-anchor="middle" fill="#2b2b2b" color="#2b2b2b" >12</text>
<text transform="translate(209.40,436.00) scale(1,1.1)" font-size="8.7" text-anchor="middle" fill="#2b2b2b" color="#2b2b2b" >Day</text>
<text transform="translate(209.50,308.80) scale(1,1.1)" font-size="8.6" text-anchor="middle" fill="#222" color="#222" >NIH 3T3</text>
<text transform="translate(209.50,319.20) scale(1,1.1)" font-size="8.6" text-anchor="middle" fill="#222" color="#222" >ΔTRKA</text>
<text transform="translate(138.2,365.0) rotate(-90) scale(1,1.1)" font-size="8.95" text-anchor="middle" fill="#2b2b2b" color="#2b2b2b">Tumor volume (mm<tspan font-size="5.8" dy="-3">3</tspan><tspan dy="3">)</tspan></text>
<line x1="236.2" y1="349.4" x2="236.2" y2="362" stroke="#1a1a1a" stroke-width="0.8"/>
<line x1="234.39999999999998" y1="349.4" x2="238.0" y2="349.4" stroke="#1a1a1a" stroke-width="0.8"/>
<line x1="234.39999999999998" y1="362" x2="238.0" y2="362" stroke="#1a1a1a" stroke-width="0.8"/>
<path d="M179.40,405.10 L192.00,402.00 L204.80,398.80 L210.80,395.20 L223.30,383.60 L236.20,355.70" fill="none" stroke="#1a1a1a" stroke-width="1.3"/>
<circle cx="179.4" cy="405.1" r="3.05" fill="#1a1a1a"/>
<circle cx="192" cy="402" r="3.05" fill="#1a1a1a"/>
<circle cx="204.8" cy="398.8" r="3.05" fill="#1a1a1a"/>
<circle cx="210.8" cy="395.2" r="3.05" fill="#1a1a1a"/>
<circle cx="223.3" cy="383.6" r="3.05" fill="#1a1a1a"/>
<circle cx="236.2" cy="355.7" r="3.05" fill="#1a1a1a"/>
<path d="M192.00,404.50 L204.80,403.50 L210.80,402.70 L223.30,402.70 L235.90,400.90" fill="none" stroke="#ea1d30" stroke-width="1.3"/>
<circle cx="192" cy="404.5" r="2.95" fill="#ea1d30"/>
<circle cx="204.8" cy="403.5" r="2.95" fill="#ea1d30"/>
<circle cx="210.8" cy="402.7" r="2.95" fill="#ea1d30"/>
<circle cx="223.3" cy="402.7" r="2.95" fill="#ea1d30"/>
<circle cx="235.9" cy="400.9" r="2.95" fill="#ea1d30"/>
<path d="M179.40,405.10 L192.00,404.60 L204.80,403.50 L210.80,405.90 L223.30,405.60 L235.90,404.60" fill="none" stroke="#7a2048" stroke-width="1.2"/>
<rect x="176.40" y="402.20" width="6.0" height="5.8" fill="#2c2452"/>
<path d="M179.40,402.70 L181.80,407.60 L177.00,407.60 Z" fill="#fff" stroke="#3a2a60" stroke-width="0.5"/>
<rect x="189.00" y="401.70" width="6.0" height="5.8" fill="#8a2a55"/>
<path d="M192.00,402.20 L194.40,407.10 L189.60,407.10 Z" fill="#fff" stroke="#3a2a60" stroke-width="0.5"/>
<rect x="201.80" y="400.60" width="6.0" height="5.8" fill="#8a2a55"/>
<path d="M204.80,401.10 L207.20,406.00 L202.40,406.00 Z" fill="#fff" stroke="#3a2a60" stroke-width="0.5"/>
<rect x="207.80" y="403.00" width="6.0" height="5.8" fill="#8a2a55"/>
<path d="M210.80,403.50 L213.20,408.40 L208.40,408.40 Z" fill="#fff" stroke="#3a2a60" stroke-width="0.5"/>
<rect x="220.30" y="402.70" width="6.0" height="5.8" fill="#8a2a55"/>
<path d="M223.30,403.20 L225.70,408.10 L220.90,408.10 Z" fill="#fff" stroke="#3a2a60" stroke-width="0.5"/>
<rect x="232.90" y="401.70" width="6.0" height="5.8" fill="#8a2a55"/>
<path d="M235.90,402.20 L238.30,407.10 L233.50,407.10 Z" fill="#fff" stroke="#3a2a60" stroke-width="0.5"/>
<line x1="297.2" y1="320" x2="297.2" y2="407.6" stroke="#787878" stroke-width="1"/>
<line x1="295.4" y1="407.10" x2="297.2" y2="407.10" stroke="#787878" stroke-width="0.8"/>
<line x1="296.0" y1="394.74" x2="297.2" y2="394.74" stroke="#787878" stroke-width="0.8"/>
<line x1="295.4" y1="382.37" x2="297.2" y2="382.37" stroke="#787878" stroke-width="0.8"/>
<line x1="296.0" y1="370.00" x2="297.2" y2="370.00" stroke="#787878" stroke-width="0.8"/>
<line x1="295.4" y1="357.64" x2="297.2" y2="357.64" stroke="#787878" stroke-width="0.8"/>
<line x1="296.0" y1="345.28" x2="297.2" y2="345.28" stroke="#787878" stroke-width="0.8"/>
<line x1="295.4" y1="332.91" x2="297.2" y2="332.91" stroke="#787878" stroke-width="0.8"/>
<text transform="translate(292.30,409.65) scale(1,1.1)" font-size="7.45" text-anchor="end" fill="#2b2b2b" color="#2b2b2b" >0</text>
<text transform="translate(292.30,384.92) scale(1,1.1)" font-size="7.45" text-anchor="end" fill="#2b2b2b" color="#2b2b2b" >1,000</text>
<text transform="translate(292.30,360.19) scale(1,1.1)" font-size="7.45" text-anchor="end" fill="#2b2b2b" color="#2b2b2b" >2,000</text>
<text transform="translate(292.30,335.46) scale(1,1.1)" font-size="7.45" text-anchor="end" fill="#2b2b2b" color="#2b2b2b" >3,000</text>
<line x1="301.29999999999995" y1="412.0" x2="377.8" y2="412.0" stroke="#595959" stroke-width="1.1"/>
<line x1="301.90" y1="412.0" x2="301.90" y2="413.6" stroke="#787878" stroke-width="0.8"/>
<text transform="translate(301.60,423.00) scale(1,1.1)" font-size="7.3" text-anchor="middle" fill="#2b2b2b" color="#2b2b2b" >0</text>
<line x1="308.20" y1="412.0" x2="308.20" y2="413.0" stroke="#787878" stroke-width="0.8"/>
<line x1="314.50" y1="412.0" x2="314.50" y2="413.6" stroke="#787878" stroke-width="0.8"/>
<text transform="translate(314.20,423.00) scale(1,1.1)" font-size="7.3" text-anchor="middle" fill="#2b2b2b" color="#2b2b2b" >2</text>
<line x1="320.80" y1="412.0" x2="320.80" y2="413.0" stroke="#787878" stroke-width="0.8"/>
<line x1="327.10" y1="412.0" x2="327.10" y2="413.6" stroke="#787878" stroke-width="0.8"/>
<text transform="translate(326.80,423.00) scale(1,1.1)" font-size="7.3" text-anchor="middle" fill="#2b2b2b" color="#2b2b2b" >4</text>
<line x1="333.40" y1="412.0" x2="333.40" y2="413.0" stroke="#787878" stroke-width="0.8"/>
<line x1="339.70" y1="412.0" x2="339.70" y2="413.6" stroke="#787878" stroke-width="0.8"/>
<text transform="translate(339.40,423.00) scale(1,1.1)" font-size="7.3" text-anchor="middle" fill="#2b2b2b" color="#2b2b2b" >6</text>
<line x1="346.00" y1="412.0" x2="346.00" y2="413.0" stroke="#787878" stroke-width="0.8"/>
<line x1="352.30" y1="412.0" x2="352.30" y2="413.6" stroke="#787878" stroke-width="0.8"/>
<text transform="translate(352.00,423.00) scale(1,1.1)" font-size="7.3" text-anchor="middle" fill="#2b2b2b" color="#2b2b2b" >8</text>
<line x1="358.60" y1="412.0" x2="358.60" y2="413.0" stroke="#787878" stroke-width="0.8"/>
<line x1="364.90" y1="412.0" x2="364.90" y2="413.6" stroke="#787878" stroke-width="0.8"/>
<text transform="translate(364.60,423.00) scale(1,1.1)" font-size="7.3" text-anchor="middle" fill="#2b2b2b" color="#2b2b2b" >10</text>
<line x1="371.20" y1="412.0" x2="371.20" y2="413.0" stroke="#787878" stroke-width="0.8"/>
<line x1="377.50" y1="412.0" x2="377.50" y2="413.6" stroke="#787878" stroke-width="0.8"/>
<text transform="translate(377.20,423.00) scale(1,1.1)" font-size="7.3" text-anchor="middle" fill="#2b2b2b" color="#2b2b2b" >12</text>
<text transform="translate(337.60,436.00) scale(1,1.1)" font-size="8.7" text-anchor="middle" fill="#2b2b2b" color="#2b2b2b" >Day</text>
<text transform="translate(337.80,308.80) scale(1,1.1)" font-size="8.6" text-anchor="middle" fill="#222" color="#222" >NIH 3T3</text>
<text transform="translate(337.80,319.20) scale(1,1.1)" font-size="8.6" text-anchor="middle" fill="#222" color="#222" >ΔTRKA G595R</text>
<text transform="translate(266.4,365.0) rotate(-90) scale(1,1.1)" font-size="8.95" text-anchor="middle" fill="#2b2b2b" color="#2b2b2b">Tumor volume (mm<tspan font-size="5.8" dy="-3">3</tspan><tspan dy="3">)</tspan></text>
<line x1="339.7" y1="367.6" x2="339.7" y2="377.5" stroke="#1a1a1a" stroke-width="0.8"/>
<line x1="337.9" y1="367.6" x2="341.5" y2="367.6" stroke="#1a1a1a" stroke-width="0.8"/>
<line x1="337.9" y1="377.5" x2="341.5" y2="377.5" stroke="#1a1a1a" stroke-width="0.8"/>
<line x1="339.7" y1="384" x2="339.7" y2="391" stroke="#4a5aa8" stroke-width="0.8"/>
<line x1="337.9" y1="384" x2="341.5" y2="384" stroke="#4a5aa8" stroke-width="0.8"/>
<line x1="337.9" y1="391" x2="341.5" y2="391" stroke="#4a5aa8" stroke-width="0.8"/>
<line x1="352" y1="356" x2="352" y2="372.6" stroke="#4a5aa8" stroke-width="0.8"/>
<line x1="350.2" y1="356" x2="353.8" y2="356" stroke="#4a5aa8" stroke-width="0.8"/>
<line x1="350.2" y1="372.6" x2="353.8" y2="372.6" stroke="#4a5aa8" stroke-width="0.8"/>
<line x1="365" y1="331.9" x2="365" y2="353.7" stroke="#4a5aa8" stroke-width="0.8"/>
<line x1="363.2" y1="331.9" x2="366.8" y2="331.9" stroke="#4a5aa8" stroke-width="0.8"/>
<line x1="363.2" y1="353.7" x2="366.8" y2="353.7" stroke="#4a5aa8" stroke-width="0.8"/>
<path d="M308.30,404.90 L327.40,396.40 L339.70,387.50 L352.00,364.60 L365.00,343.80" fill="none" stroke="#27337e" stroke-width="1.2" stroke-dasharray="1.7,1.1"/>
<path d="M308.30,401.90 L311.10,407.10 L305.50,407.10 Z" fill="#fff" stroke="#6c78b8" stroke-width="0.9"/>
<path d="M327.40,393.40 L330.20,398.60 L324.60,398.60 Z" fill="#fff" stroke="#6c78b8" stroke-width="0.9"/>
<path d="M339.70,384.50 L342.50,389.70 L336.90,389.70 Z" fill="#fff" stroke="#6c78b8" stroke-width="0.9"/>
<path d="M352.00,361.60 L354.80,366.80 L349.20,366.80 Z" fill="#fff" stroke="#6c78b8" stroke-width="0.9"/>
<path d="M365.00,340.80 L367.80,346.00 L362.20,346.00 Z" fill="#fff" stroke="#6c78b8" stroke-width="0.9"/>
<path d="M308.30,404.90 L327.40,406.20 L339.70,406.80 L352.00,406.00 L365.00,406.80 L377.40,406.80" fill="none" stroke="#ea1d30" stroke-width="1.3"/>
<rect x="305.30" y="402.00" width="6.0" height="5.8" fill="#ea1d30"/>
<rect x="324.40" y="403.30" width="6.0" height="5.8" fill="#ea1d30"/>
<rect x="336.70" y="403.90" width="6.0" height="5.8" fill="#ea1d30"/>
<rect x="349.00" y="403.10" width="6.0" height="5.8" fill="#ea1d30"/>
<rect x="362.00" y="403.90" width="6.0" height="5.8" fill="#ea1d30"/>
<rect x="374.40" y="403.90" width="6.0" height="5.8" fill="#ea1d30"/>
<path d="M308.30,404.90 L327.40,405.50 L339.70,406.30 L352.00,402.30 L365.00,399.00 L377.40,395.00" fill="none" stroke="#ea1d30" stroke-width="1.3"/>
<circle cx="308.3" cy="404.9" r="2.95" fill="#ea1d30"/>
<circle cx="327.4" cy="405.5" r="2.95" fill="#ea1d30"/>
<circle cx="339.7" cy="406.3" r="2.95" fill="#ea1d30"/>
<circle cx="352" cy="402.3" r="2.95" fill="#ea1d30"/>
<circle cx="365" cy="399" r="2.95" fill="#ea1d30"/>
<circle cx="377.4" cy="395" r="2.95" fill="#ea1d30"/>
<path d="M308.30,404.90 L327.40,392.40 L339.70,372.60" fill="none" stroke="#1a1a1a" stroke-width="1.3"/>
<circle cx="308.3" cy="404.9" r="3.05" fill="#1a1a1a"/>
<circle cx="327.4" cy="392.4" r="3.05" fill="#1a1a1a"/>
<circle cx="339.7" cy="372.6" r="3.05" fill="#1a1a1a"/>
<rect x="305.30" y="402.00" width="6.0" height="5.8" fill="#1a0a0a"/>
<line x1="425.4" y1="320" x2="425.4" y2="407.6" stroke="#787878" stroke-width="1"/>
<line x1="423.59999999999997" y1="407.10" x2="425.4" y2="407.10" stroke="#787878" stroke-width="0.8"/>
<line x1="424.2" y1="394.74" x2="425.4" y2="394.74" stroke="#787878" stroke-width="0.8"/>
<line x1="423.59999999999997" y1="382.37" x2="425.4" y2="382.37" stroke="#787878" stroke-width="0.8"/>
<line x1="424.2" y1="370.00" x2="425.4" y2="370.00" stroke="#787878" stroke-width="0.8"/>
<line x1="423.59999999999997" y1="357.64" x2="425.4" y2="357.64" stroke="#787878" stroke-width="0.8"/>
<line x1="424.2" y1="345.28" x2="425.4" y2="345.28" stroke="#787878" stroke-width="0.8"/>
<line x1="423.59999999999997" y1="332.91" x2="425.4" y2="332.91" stroke="#787878" stroke-width="0.8"/>
<text transform="translate(420.50,409.65) scale(1,1.1)" font-size="7.45" text-anchor="end" fill="#2b2b2b" color="#2b2b2b" >0</text>
<text transform="translate(420.50,384.92) scale(1,1.1)" font-size="7.45" text-anchor="end" fill="#2b2b2b" color="#2b2b2b" >1,000</text>
<text transform="translate(420.50,360.19) scale(1,1.1)" font-size="7.45" text-anchor="end" fill="#2b2b2b" color="#2b2b2b" >2,000</text>
<text transform="translate(420.50,335.46) scale(1,1.1)" font-size="7.45" text-anchor="end" fill="#2b2b2b" color="#2b2b2b" >3,000</text>
<line x1="429.49999999999994" y1="412.0" x2="505.99999999999994" y2="412.0" stroke="#595959" stroke-width="1.1"/>
<line x1="430.10" y1="412.0" x2="430.10" y2="413.6" stroke="#787878" stroke-width="0.8"/>
<text transform="translate(429.80,423.00) scale(1,1.1)" font-size="7.3" text-anchor="middle" fill="#2b2b2b" color="#2b2b2b" >0</text>
<line x1="436.40" y1="412.0" x2="436.40" y2="413.0" stroke="#787878" stroke-width="0.8"/>
<line x1="442.70" y1="412.0" x2="442.70" y2="413.6" stroke="#787878" stroke-width="0.8"/>
<text transform="translate(442.40,423.00) scale(1,1.1)" font-size="7.3" text-anchor="middle" fill="#2b2b2b" color="#2b2b2b" >2</text>
<line x1="449.00" y1="412.0" x2="449.00" y2="413.0" stroke="#787878" stroke-width="0.8"/>
<line x1="455.30" y1="412.0" x2="455.30" y2="413.6" stroke="#787878" stroke-width="0.8"/>
<text transform="translate(455.00,423.00) scale(1,1.1)" font-size="7.3" text-anchor="middle" fill="#2b2b2b" color="#2b2b2b" >4</text>
<line x1="461.60" y1="412.0" x2="461.60" y2="413.0" stroke="#787878" stroke-width="0.8"/>
<line x1="467.90" y1="412.0" x2="467.90" y2="413.6" stroke="#787878" stroke-width="0.8"/>
<text transform="translate(467.60,423.00) scale(1,1.1)" font-size="7.3" text-anchor="middle" fill="#2b2b2b" color="#2b2b2b" >6</text>
<line x1="474.20" y1="412.0" x2="474.20" y2="413.0" stroke="#787878" stroke-width="0.8"/>
<line x1="480.50" y1="412.0" x2="480.50" y2="413.6" stroke="#787878" stroke-width="0.8"/>
<text transform="translate(480.20,423.00) scale(1,1.1)" font-size="7.3" text-anchor="middle" fill="#2b2b2b" color="#2b2b2b" >8</text>
<line x1="486.80" y1="412.0" x2="486.80" y2="413.0" stroke="#787878" stroke-width="0.8"/>
<line x1="493.10" y1="412.0" x2="493.10" y2="413.6" stroke="#787878" stroke-width="0.8"/>
<text transform="translate(492.80,423.00) scale(1,1.1)" font-size="7.3" text-anchor="middle" fill="#2b2b2b" color="#2b2b2b" >10</text>
<line x1="499.40" y1="412.0" x2="499.40" y2="413.0" stroke="#787878" stroke-width="0.8"/>
<line x1="505.70" y1="412.0" x2="505.70" y2="413.6" stroke="#787878" stroke-width="0.8"/>
<text transform="translate(505.40,423.00) scale(1,1.1)" font-size="7.3" text-anchor="middle" fill="#2b2b2b" color="#2b2b2b" >12</text>
<text transform="translate(468.00,436.00) scale(1,1.1)" font-size="8.7" text-anchor="middle" fill="#2b2b2b" color="#2b2b2b" >Day</text>
<text transform="translate(466.10,308.80) scale(1,1.1)" font-size="8.6" text-anchor="middle" fill="#222" color="#222" >NIH 3T3</text>
<text transform="translate(466.10,319.20) scale(1,1.1)" font-size="8.6" text-anchor="middle" fill="#222" color="#222" >ΔTRKA G667C</text>
<text transform="translate(394.59999999999997,365.0) rotate(-90) scale(1,1.1)" font-size="8.95" text-anchor="middle" fill="#2b2b2b" color="#2b2b2b">Tumor volume (mm<tspan font-size="5.8" dy="-3">3</tspan><tspan dy="3">)</tspan></text>
<line x1="474" y1="357.3" x2="474" y2="366.6" stroke="#1a1a1a" stroke-width="0.8"/>
<line x1="472.2" y1="357.3" x2="475.8" y2="357.3" stroke="#1a1a1a" stroke-width="0.8"/>
<line x1="472.2" y1="366.6" x2="475.8" y2="366.6" stroke="#1a1a1a" stroke-width="0.8"/>
<path d="M436.30,404.90 L448.80,400.50 L461.30,393.60 L474.00,382.50 L486.50,368.30" fill="none" stroke="#27337e" stroke-width="1.2" stroke-dasharray="1.7,1.1"/>
<path d="M436.30,401.90 L439.10,407.10 L433.50,407.10 Z" fill="#fff" stroke="#6c78b8" stroke-width="0.9"/>
<path d="M448.80,397.50 L451.60,402.70 L446.00,402.70 Z" fill="#fff" stroke="#6c78b8" stroke-width="0.9"/>
<path d="M461.30,390.60 L464.10,395.80 L458.50,395.80 Z" fill="#fff" stroke="#6c78b8" stroke-width="0.9"/>
<path d="M474.00,379.50 L476.80,384.70 L471.20,384.70 Z" fill="#fff" stroke="#6c78b8" stroke-width="0.9"/>
<path d="M486.50,365.30 L489.30,370.50 L483.70,370.50 Z" fill="#fff" stroke="#6c78b8" stroke-width="0.9"/>
<path d="M436.30,404.90 L448.80,404.90 L461.30,405.30 L474.00,405.30 L486.50,405.70" fill="none" stroke="#ea1d30" stroke-width="1.3"/>
<path d="M433.30,402.50 L439.30,402.50 L436.30,407.80 Z" fill="#ea1d30"/>
<path d="M445.80,402.50 L451.80,402.50 L448.80,407.80 Z" fill="#ea1d30"/>
<path d="M458.30,402.90 L464.30,402.90 L461.30,408.20 Z" fill="#ea1d30"/>
<path d="M471.00,402.90 L477.00,402.90 L474.00,408.20 Z" fill="#ea1d30"/>
<path d="M483.50,403.30 L489.50,403.30 L486.50,408.60 Z" fill="#ea1d30"/>
<path d="M436.30,404.90 L448.80,403.50 L461.30,400.40 L474.00,399.40 L486.50,394.40" fill="none" stroke="#ea1d30" stroke-width="1.3"/>
<rect x="433.30" y="402.00" width="6.0" height="5.8" fill="#ea1d30"/>
<rect x="445.80" y="400.60" width="6.0" height="5.8" fill="#ea1d30"/>
<rect x="458.30" y="397.50" width="6.0" height="5.8" fill="#ea1d30"/>
<rect x="471.00" y="396.50" width="6.0" height="5.8" fill="#ea1d30"/>
<rect x="483.50" y="391.50" width="6.0" height="5.8" fill="#ea1d30"/>
<path d="M436.30,404.90 L448.80,402.50 L461.30,398.00 L474.00,389.40 L486.50,377.00" fill="none" stroke="#ea1d30" stroke-width="1.3"/>
<circle cx="436.3" cy="404.9" r="2.95" fill="#ea1d30"/>
<circle cx="448.8" cy="402.5" r="2.95" fill="#ea1d30"/>
<circle cx="461.3" cy="398" r="2.95" fill="#ea1d30"/>
<circle cx="474" cy="389.4" r="2.95" fill="#ea1d30"/>
<circle cx="486.5" cy="377" r="2.95" fill="#ea1d30"/>
<path d="M436.30,404.90 L448.80,397.40 L461.30,384.50 L474.00,361.70" fill="none" stroke="#1a1a1a" stroke-width="1.3"/>
<circle cx="436.3" cy="404.9" r="3.05" fill="#1a1a1a"/>
<circle cx="448.8" cy="397.4" r="3.05" fill="#1a1a1a"/>
<circle cx="461.3" cy="384.5" r="3.05" fill="#1a1a1a"/>
<circle cx="474" cy="361.7" r="3.05" fill="#1a1a1a"/>
<rect x="433.30" y="402.00" width="6.0" height="5.8" fill="#1a0a0a"/>
<line x1="144.79999999999998" y1="447.0" x2="156.4" y2="447.0" stroke="#1a1a1a" stroke-width="1.4"/>
<circle cx="150.6" cy="447.0" r="3.1" fill="#1a1a1a"/>
<text transform="translate(162.00,449.90) scale(1,1.0)" font-size="8.5" text-anchor="start" fill="#2b2b2b" color="#2b2b2b" >Vehicle</text>
<line x1="144.79999999999998" y1="459.8" x2="156.4" y2="459.8" stroke="#3a4690" stroke-width="1.0" stroke-dasharray="1.6,1.3"/>
<path d="M150.60,456.80 L153.40,462.00 L147.80,462.00 Z" fill="#fff" stroke="#5a66a8" stroke-width="0.9"/>
<text transform="translate(162.00,462.70) scale(1,1.0)" font-size="8.5" text-anchor="start" fill="#2b2b2b" color="#2b2b2b" >60 mg/kg QD larotrectinib</text>
<line x1="278.5" y1="447.0" x2="290.1" y2="447.0" stroke="#ea1d30" stroke-width="1.4"/>
<circle cx="284.3" cy="447.0" r="3.0" fill="#ea1d30"/>
<text transform="translate(295.70,449.90) scale(1,1.0)" font-size="8.5" text-anchor="start" fill="#2b2b2b" color="#2b2b2b" >30 mg/kg BID LOXO-195</text>
<line x1="278.5" y1="459.9" x2="290.1" y2="459.9" stroke="#ea1d30" stroke-width="1.4"/>
<rect x="281.40" y="457.00" width="5.8" height="5.8" fill="#ea1d30"/>
<text transform="translate(295.70,462.80) scale(1,1.0)" font-size="8.5" text-anchor="start" fill="#2b2b2b" color="#2b2b2b" >100 mg/kg BID LOXO-195</text>
<line x1="278.5" y1="472.9" x2="290.1" y2="472.9" stroke="#ea1d30" stroke-width="1.4"/>
<path d="M281.30,470.30 L287.30,470.30 L284.30,476.60 Z" fill="#ea1d30"/>
<text transform="translate(295.70,475.80) scale(1,1.0)" font-size="8.5" text-anchor="start" fill="#2b2b2b" color="#2b2b2b" >300 mg/kg BID LOXO-195</text>
</svg>
</body></html>
